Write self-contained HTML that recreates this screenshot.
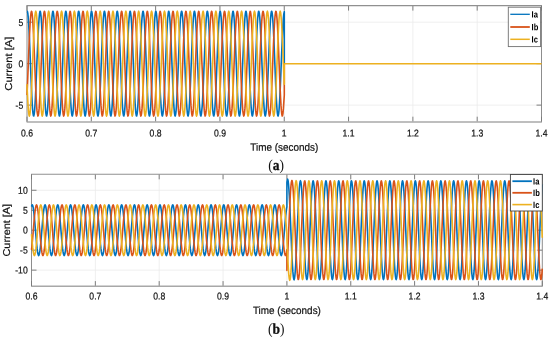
<!DOCTYPE html>
<html><head><meta charset="utf-8"><title>Current waveforms</title>
<style>html,body{margin:0;padding:0;background:#fff}svg{display:block}</style>
</head><body>
<svg width="550" height="339" viewBox="0 0 550 339">
<style>
.g{stroke:#ebebeb;stroke-width:0.8}
.t{stroke:#606060;stroke-width:0.8}
.bh{fill:none;stroke:#909090;stroke-width:1.1}
.bb{fill:none;stroke:#a8a8a8;stroke-width:1.45}
.bv{fill:none;stroke:#787878;stroke-width:0.85}
.lgb{fill:#fff;stroke-width:0.9}
text{font-family:"Liberation Sans",Arial,sans-serif;fill:#111}
.tk{font-size:9px;stroke:#111;stroke-width:0.2px}
.lb{font-size:10px;stroke:#111;stroke-width:0.2px}
.lg{font-size:8px;fill:#000;font-weight:bold}
.bd{font-weight:bold;stroke:#111;stroke-width:0.3px}
.cap{font-family:"Liberation Serif","Times New Roman",serif;font-size:15px;fill:#111}
</style>
<rect width="550" height="339" fill="#fff"/>
<line x1="91.31" y1="5.60" x2="91.31" y2="121.70" class="g"/>
<line x1="155.62" y1="5.60" x2="155.62" y2="121.70" class="g"/>
<line x1="219.94" y1="5.60" x2="219.94" y2="121.70" class="g"/>
<line x1="284.25" y1="5.60" x2="284.25" y2="121.70" class="g"/>
<line x1="348.56" y1="5.60" x2="348.56" y2="121.70" class="g"/>
<line x1="412.88" y1="5.60" x2="412.88" y2="121.70" class="g"/>
<line x1="477.19" y1="5.60" x2="477.19" y2="121.70" class="g"/>
<line x1="27.00" y1="22.19" x2="541.50" y2="22.19" class="g"/>
<line x1="27.00" y1="63.65" x2="541.50" y2="63.65" class="g"/>
<line x1="27.00" y1="105.11" x2="541.50" y2="105.11" class="g"/>
<line x1="27.00" y1="121.70" x2="27.00" y2="116.70" class="t"/>
<line x1="27.00" y1="5.60" x2="27.00" y2="10.60" class="t"/>
<line x1="91.31" y1="121.70" x2="91.31" y2="116.70" class="t"/>
<line x1="91.31" y1="5.60" x2="91.31" y2="10.60" class="t"/>
<line x1="155.62" y1="121.70" x2="155.62" y2="116.70" class="t"/>
<line x1="155.62" y1="5.60" x2="155.62" y2="10.60" class="t"/>
<line x1="219.94" y1="121.70" x2="219.94" y2="116.70" class="t"/>
<line x1="219.94" y1="5.60" x2="219.94" y2="10.60" class="t"/>
<line x1="284.25" y1="121.70" x2="284.25" y2="116.70" class="t"/>
<line x1="284.25" y1="5.60" x2="284.25" y2="10.60" class="t"/>
<line x1="348.56" y1="121.70" x2="348.56" y2="116.70" class="t"/>
<line x1="348.56" y1="5.60" x2="348.56" y2="10.60" class="t"/>
<line x1="412.88" y1="121.70" x2="412.88" y2="116.70" class="t"/>
<line x1="412.88" y1="5.60" x2="412.88" y2="10.60" class="t"/>
<line x1="477.19" y1="121.70" x2="477.19" y2="116.70" class="t"/>
<line x1="477.19" y1="5.60" x2="477.19" y2="10.60" class="t"/>
<line x1="541.50" y1="121.70" x2="541.50" y2="116.70" class="t"/>
<line x1="541.50" y1="5.60" x2="541.50" y2="10.60" class="t"/>
<line x1="27.00" y1="22.19" x2="32.00" y2="22.19" class="t"/>
<line x1="541.50" y1="22.19" x2="536.50" y2="22.19" class="t"/>
<line x1="27.00" y1="63.65" x2="32.00" y2="63.65" class="t"/>
<line x1="541.50" y1="63.65" x2="536.50" y2="63.65" class="t"/>
<line x1="27.00" y1="105.11" x2="32.00" y2="105.11" class="t"/>
<line x1="541.50" y1="105.11" x2="536.50" y2="105.11" class="t"/>
<path d="M26.60 5.60H541.90" class="bh"/>
<path d="M26.60 121.90H541.90" class="bb"/>
<path d="M27.00 5.60V121.70M541.50 5.60V121.70" class="bv"/>
<polyline points="27.0,9.07 27.4,8.88 27.8,10.24 28.2,13.08 28.6,17.29 29.0,22.73 29.4,29.17 29.8,36.38 30.2,44.07 30.6,51.94 31.0,59.70 31.4,67.05 31.8,73.71 32.2,79.41 32.6,83.94 33.0,87.13 33.4,88.85 33.8,89.04 34.2,87.69 34.6,84.85 35.0,80.63 35.4,75.19 35.8,68.75 36.2,61.55 36.6,53.86 37.0,45.98 37.5,38.22 37.9,30.87 38.3,24.22 38.7,18.51 39.1,13.98 39.5,10.79 39.9,9.07 40.3,8.88 40.7,10.24 41.1,13.08 41.5,17.29 41.9,22.73 42.3,29.17 42.7,36.38 43.1,44.07 43.5,51.94 43.9,59.70 44.3,67.05 44.7,73.71 45.1,79.41 45.5,83.94 45.9,87.13 46.3,88.85 46.7,89.04 47.1,87.69 47.5,84.85 47.9,80.63 48.3,75.19 48.7,68.75 49.1,61.55 49.5,53.86 49.9,45.98 50.3,38.22 50.7,30.87 51.1,24.22 51.5,18.51 51.9,13.98 52.3,10.79 52.7,9.07 53.1,8.88 53.5,10.24 53.9,13.08 54.3,17.29 54.7,22.73 55.1,29.17 55.5,36.38 55.9,44.07 56.3,51.94 56.7,59.70 57.1,67.05 57.5,73.71 58.0,79.41 58.4,83.94 58.8,87.13 59.2,88.85 59.6,89.04 60.0,87.69 60.4,84.85 60.8,80.63 61.2,75.19 61.6,68.75 62.0,61.55 62.4,53.86 62.8,45.98 63.2,38.22 63.6,30.87 64.0,24.22 64.4,18.51 64.8,13.98 65.2,10.79 65.6,9.07 66.0,8.88 66.4,10.24 66.8,13.08 67.2,17.29 67.6,22.73 68.0,29.17 68.4,36.38 68.8,44.07 69.2,51.94 69.6,59.70 70.0,67.05 70.4,73.71 70.8,79.41 71.2,83.94 71.6,87.13 72.0,88.85 72.4,89.04 72.8,87.69 73.2,84.85 73.6,80.63 74.0,75.19 74.4,68.75 74.8,61.55 75.2,53.86 75.6,45.98 76.0,38.22 76.4,30.87 76.8,24.22 77.2,18.51 77.6,13.98 78.0,10.79 78.4,9.07 78.9,8.88 79.3,10.24 79.7,13.08 80.1,17.29 80.5,22.73 80.9,29.17 81.3,36.38 81.7,44.07 82.1,51.94 82.5,59.70 82.9,67.05 83.3,73.71 83.7,79.41 84.1,83.94 84.5,87.13 84.9,88.85 85.3,89.04 85.7,87.69 86.1,84.85 86.5,80.63 86.9,75.19 87.3,68.75 87.7,61.55 88.1,53.86 88.5,45.98 88.9,38.22 89.3,30.87 89.7,24.22 90.1,18.51 90.5,13.98 90.9,10.79 91.3,9.07 91.7,8.88 92.1,10.24 92.5,13.08 92.9,17.29 93.3,22.73 93.7,29.17 94.1,36.38 94.5,44.07 94.9,51.94 95.3,59.70 95.7,67.05 96.1,73.71 96.5,79.41 96.9,83.94 97.3,87.13 97.7,88.85 98.1,89.04 98.5,87.69 98.9,84.85 99.4,80.63 99.8,75.19 100.2,68.75 100.6,61.55 101.0,53.86 101.4,45.98 101.8,38.22 102.2,30.87 102.6,24.22 103.0,18.51 103.4,13.98 103.8,10.79 104.2,9.07 104.6,8.88 105.0,10.24 105.4,13.08 105.8,17.29 106.2,22.73 106.6,29.17 107.0,36.38 107.4,44.07 107.8,51.94 108.2,59.70 108.6,67.05 109.0,73.71 109.4,79.41 109.8,83.94 110.2,87.13 110.6,88.85 111.0,89.04 111.4,87.69 111.8,84.85 112.2,80.63 112.6,75.19 113.0,68.75 113.4,61.55 113.8,53.86 114.2,45.98 114.6,38.22 115.0,30.87 115.4,24.22 115.8,18.51 116.2,13.98 116.6,10.79 117.0,9.07 117.4,8.88 117.8,10.24 118.2,13.08 118.6,17.29 119.0,22.73 119.4,29.17 119.9,36.38 120.3,44.07 120.7,51.94 121.1,59.70 121.5,67.05 121.9,73.71 122.3,79.41 122.7,83.94 123.1,87.13 123.5,88.85 123.9,89.04 124.3,87.69 124.7,84.85 125.1,80.63 125.5,75.19 125.9,68.75 126.3,61.55 126.7,53.86 127.1,45.98 127.5,38.22 127.9,30.87 128.3,24.22 128.7,18.51 129.1,13.98 129.5,10.79 129.9,9.07 130.3,8.88 130.7,10.24 131.1,13.08 131.5,17.29 131.9,22.73 132.3,29.17 132.7,36.38 133.1,44.07 133.5,51.94 133.9,59.70 134.3,67.05 134.7,73.71 135.1,79.41 135.5,83.94 135.9,87.13 136.3,88.85 136.7,89.04 137.1,87.69 137.5,84.85 137.9,80.63 138.3,75.19 138.7,68.75 139.1,61.55 139.5,53.86 139.9,45.98 140.4,38.22 140.8,30.87 141.2,24.22 141.6,18.51 142.0,13.98 142.4,10.79 142.8,9.07 143.2,8.88 143.6,10.24 144.0,13.08 144.4,17.29 144.8,22.73 145.2,29.17 145.6,36.38 146.0,44.07 146.4,51.94 146.8,59.70 147.2,67.05 147.6,73.71 148.0,79.41 148.4,83.94 148.8,87.13 149.2,88.85 149.6,89.04 150.0,87.69 150.4,84.85 150.8,80.63 151.2,75.19 151.6,68.75 152.0,61.55 152.4,53.86 152.8,45.98 153.2,38.22 153.6,30.87 154.0,24.22 154.4,18.51 154.8,13.98 155.2,10.79 155.6,9.07 156.0,8.88 156.4,10.24 156.8,13.08 157.2,17.29 157.6,22.73 158.0,29.17 158.4,36.38 158.8,44.07 159.2,51.94 159.6,59.70 160.0,67.05 160.4,73.71 160.9,79.41 161.3,83.94 161.7,87.13 162.1,88.85 162.5,89.04 162.9,87.69 163.3,84.85 163.7,80.63 164.1,75.19 164.5,68.75 164.9,61.55 165.3,53.86 165.7,45.98 166.1,38.22 166.5,30.87 166.9,24.22 167.3,18.51 167.7,13.98 168.1,10.79 168.5,9.07 168.9,8.88 169.3,10.24 169.7,13.08 170.1,17.29 170.5,22.73 170.9,29.17 171.3,36.38 171.7,44.07 172.1,51.94 172.5,59.70 172.9,67.05 173.3,73.71 173.7,79.41 174.1,83.94 174.5,87.13 174.9,88.85 175.3,89.04 175.7,87.69 176.1,84.85 176.5,80.63 176.9,75.19 177.3,68.75 177.7,61.55 178.1,53.86 178.5,45.98 178.9,38.22 179.3,30.87 179.7,24.22 180.1,18.51 180.5,13.98 180.9,10.79 181.4,9.07 181.8,8.88 182.2,10.24 182.6,13.08 183.0,17.29 183.4,22.73 183.8,29.17 184.2,36.38 184.6,44.07 185.0,51.94 185.4,59.70 185.8,67.05 186.2,73.71 186.6,79.41 187.0,83.94 187.4,87.13 187.8,88.85 188.2,89.04 188.6,87.69 189.0,84.85 189.4,80.63 189.8,75.19 190.2,68.75 190.6,61.55 191.0,53.86 191.4,45.98 191.8,38.22 192.2,30.87 192.6,24.22 193.0,18.51 193.4,13.98 193.8,10.79 194.2,9.07 194.6,8.88 195.0,10.24 195.4,13.08 195.8,17.29 196.2,22.73 196.6,29.17 197.0,36.38 197.4,44.07 197.8,51.94 198.2,59.70 198.6,67.05 199.0,73.71 199.4,79.41 199.8,83.94 200.2,87.13 200.6,88.85 201.0,89.04 201.4,87.69 201.8,84.85 202.3,80.63 202.7,75.19 203.1,68.75 203.5,61.55 203.9,53.86 204.3,45.98 204.7,38.22 205.1,30.87 205.5,24.22 205.9,18.51 206.3,13.98 206.7,10.79 207.1,9.07 207.5,8.88 207.9,10.24 208.3,13.08 208.7,17.29 209.1,22.73 209.5,29.17 209.9,36.38 210.3,44.07 210.7,51.94 211.1,59.70 211.5,67.05 211.9,73.71 212.3,79.41 212.7,83.94 213.1,87.13 213.5,88.85 213.9,89.04 214.3,87.69 214.7,84.85 215.1,80.63 215.5,75.19 215.9,68.75 216.3,61.55 216.7,53.86 217.1,45.98 217.5,38.22 217.9,30.87 218.3,24.22 218.7,18.51 219.1,13.98 219.5,10.79 219.9,9.07 220.3,8.88 220.7,10.24 221.1,13.08 221.5,17.29 221.9,22.73 222.3,29.17 222.8,36.38 223.2,44.07 223.6,51.94 224.0,59.70 224.4,67.05 224.8,73.71 225.2,79.41 225.6,83.94 226.0,87.13 226.4,88.85 226.8,89.04 227.2,87.69 227.6,84.85 228.0,80.63 228.4,75.19 228.8,68.75 229.2,61.55 229.6,53.86 230.0,45.98 230.4,38.22 230.8,30.87 231.2,24.22 231.6,18.51 232.0,13.98 232.4,10.79 232.8,9.07 233.2,8.88 233.6,10.24 234.0,13.08 234.4,17.29 234.8,22.73 235.2,29.17 235.6,36.38 236.0,44.07 236.4,51.94 236.8,59.70 237.2,67.05 237.6,73.71 238.0,79.41 238.4,83.94 238.8,87.13 239.2,88.85 239.6,89.04 240.0,87.69 240.4,84.85 240.8,80.63 241.2,75.19 241.6,68.75 242.0,61.55 242.4,53.86 242.8,45.98 243.3,38.22 243.7,30.87 244.1,24.22 244.5,18.51 244.9,13.98 245.3,10.79 245.7,9.07 246.1,8.88 246.5,10.24 246.9,13.08 247.3,17.29 247.7,22.73 248.1,29.17 248.5,36.38 248.9,44.07 249.3,51.94 249.7,59.70 250.1,67.05 250.5,73.71 250.9,79.41 251.3,83.94 251.7,87.13 252.1,88.85 252.5,89.04 252.9,87.69 253.3,84.85 253.7,80.63 254.1,75.19 254.5,68.75 254.9,61.55 255.3,53.86 255.7,45.98 256.1,38.22 256.5,30.87 256.9,24.22 257.3,18.51 257.7,13.98 258.1,10.79 258.5,9.07 258.9,8.88 259.3,10.24 259.7,13.08 260.1,17.29 260.5,22.73 260.9,29.17 261.3,36.38 261.7,44.07 262.1,51.94 262.5,59.70 262.9,67.05 263.3,73.71 263.8,79.41 264.2,83.94 264.6,87.13 265.0,88.85 265.4,89.04 265.8,87.69 266.2,84.85 266.6,80.63 267.0,75.19 267.4,68.75 267.8,61.55 268.2,53.86 268.6,45.98 269.0,38.22 269.4,30.87 269.8,24.22 270.2,18.51 270.6,13.98 271.0,10.79 271.4,9.07 271.8,8.88 272.2,10.24 272.6,13.08 273.0,17.29 273.4,22.73 273.8,29.17 274.2,36.38 274.6,44.07 275.0,51.94 275.4,59.70 275.8,67.05 276.2,73.71 276.6,79.41 277.0,83.94 277.4,87.13 277.8,88.85 278.2,89.04 278.6,87.69 279.0,84.85 279.4,80.63 279.8,75.19 280.2,68.75 280.6,61.55 281.0,53.86 281.4,45.98 281.8,38.22 282.2,30.87 282.6,24.22 283.0,18.51 283.4,13.98 283.8,10.79 284.3,9.07 284.3,48.96" fill="none" stroke="#0072BD" stroke-width="1.6" stroke-linejoin="round" transform="scale(1,1.3)"/>
<polyline points="27.0,73.15 27.4,66.42 27.8,59.02 28.2,51.24 28.6,43.37 29.0,35.71 29.4,28.56 29.8,22.20 30.2,16.86 30.6,12.76 31.0,10.05 31.4,8.84 31.8,9.16 32.2,11.02 32.6,14.34 33.0,18.98 33.4,24.78 33.8,31.50 34.2,38.90 34.6,46.69 35.0,54.56 35.4,62.21 35.8,69.36 36.2,75.72 36.6,81.06 37.0,85.16 37.5,87.87 37.9,89.09 38.3,88.76 38.7,86.90 39.1,83.59 39.5,78.94 39.9,73.15 40.3,66.42 40.7,59.02 41.1,51.24 41.5,43.37 41.9,35.71 42.3,28.56 42.7,22.20 43.1,16.86 43.5,12.76 43.9,10.05 44.3,8.84 44.7,9.16 45.1,11.02 45.5,14.34 45.9,18.98 46.3,24.78 46.7,31.50 47.1,38.90 47.5,46.69 47.9,54.56 48.3,62.21 48.7,69.36 49.1,75.72 49.5,81.06 49.9,85.16 50.3,87.87 50.7,89.09 51.1,88.76 51.5,86.90 51.9,83.59 52.3,78.94 52.7,73.15 53.1,66.42 53.5,59.02 53.9,51.24 54.3,43.37 54.7,35.71 55.1,28.56 55.5,22.20 55.9,16.86 56.3,12.76 56.7,10.05 57.1,8.84 57.5,9.16 58.0,11.02 58.4,14.34 58.8,18.98 59.2,24.78 59.6,31.50 60.0,38.90 60.4,46.69 60.8,54.56 61.2,62.21 61.6,69.36 62.0,75.72 62.4,81.06 62.8,85.16 63.2,87.87 63.6,89.09 64.0,88.76 64.4,86.90 64.8,83.59 65.2,78.94 65.6,73.15 66.0,66.42 66.4,59.02 66.8,51.24 67.2,43.37 67.6,35.71 68.0,28.56 68.4,22.20 68.8,16.86 69.2,12.76 69.6,10.05 70.0,8.84 70.4,9.16 70.8,11.02 71.2,14.34 71.6,18.98 72.0,24.78 72.4,31.50 72.8,38.90 73.2,46.69 73.6,54.56 74.0,62.21 74.4,69.36 74.8,75.72 75.2,81.06 75.6,85.16 76.0,87.87 76.4,89.09 76.8,88.76 77.2,86.90 77.6,83.59 78.0,78.94 78.4,73.15 78.9,66.42 79.3,59.02 79.7,51.24 80.1,43.37 80.5,35.71 80.9,28.56 81.3,22.20 81.7,16.86 82.1,12.76 82.5,10.05 82.9,8.84 83.3,9.16 83.7,11.02 84.1,14.34 84.5,18.98 84.9,24.78 85.3,31.50 85.7,38.90 86.1,46.69 86.5,54.56 86.9,62.21 87.3,69.36 87.7,75.72 88.1,81.06 88.5,85.16 88.9,87.87 89.3,89.09 89.7,88.76 90.1,86.90 90.5,83.59 90.9,78.94 91.3,73.15 91.7,66.42 92.1,59.02 92.5,51.24 92.9,43.37 93.3,35.71 93.7,28.56 94.1,22.20 94.5,16.86 94.9,12.76 95.3,10.05 95.7,8.84 96.1,9.16 96.5,11.02 96.9,14.34 97.3,18.98 97.7,24.78 98.1,31.50 98.5,38.90 98.9,46.69 99.4,54.56 99.8,62.21 100.2,69.36 100.6,75.72 101.0,81.06 101.4,85.16 101.8,87.87 102.2,89.09 102.6,88.76 103.0,86.90 103.4,83.59 103.8,78.94 104.2,73.15 104.6,66.42 105.0,59.02 105.4,51.24 105.8,43.37 106.2,35.71 106.6,28.56 107.0,22.20 107.4,16.86 107.8,12.76 108.2,10.05 108.6,8.84 109.0,9.16 109.4,11.02 109.8,14.34 110.2,18.98 110.6,24.78 111.0,31.50 111.4,38.90 111.8,46.69 112.2,54.56 112.6,62.21 113.0,69.36 113.4,75.72 113.8,81.06 114.2,85.16 114.6,87.87 115.0,89.09 115.4,88.76 115.8,86.90 116.2,83.59 116.6,78.94 117.0,73.15 117.4,66.42 117.8,59.02 118.2,51.24 118.6,43.37 119.0,35.71 119.4,28.56 119.9,22.20 120.3,16.86 120.7,12.76 121.1,10.05 121.5,8.84 121.9,9.16 122.3,11.02 122.7,14.34 123.1,18.98 123.5,24.78 123.9,31.50 124.3,38.90 124.7,46.69 125.1,54.56 125.5,62.21 125.9,69.36 126.3,75.72 126.7,81.06 127.1,85.16 127.5,87.87 127.9,89.09 128.3,88.76 128.7,86.90 129.1,83.59 129.5,78.94 129.9,73.15 130.3,66.42 130.7,59.02 131.1,51.24 131.5,43.37 131.9,35.71 132.3,28.56 132.7,22.20 133.1,16.86 133.5,12.76 133.9,10.05 134.3,8.84 134.7,9.16 135.1,11.02 135.5,14.34 135.9,18.98 136.3,24.78 136.7,31.50 137.1,38.90 137.5,46.69 137.9,54.56 138.3,62.21 138.7,69.36 139.1,75.72 139.5,81.06 139.9,85.16 140.4,87.87 140.8,89.09 141.2,88.76 141.6,86.90 142.0,83.59 142.4,78.94 142.8,73.15 143.2,66.42 143.6,59.02 144.0,51.24 144.4,43.37 144.8,35.71 145.2,28.56 145.6,22.20 146.0,16.86 146.4,12.76 146.8,10.05 147.2,8.84 147.6,9.16 148.0,11.02 148.4,14.34 148.8,18.98 149.2,24.78 149.6,31.50 150.0,38.90 150.4,46.69 150.8,54.56 151.2,62.21 151.6,69.36 152.0,75.72 152.4,81.06 152.8,85.16 153.2,87.87 153.6,89.09 154.0,88.76 154.4,86.90 154.8,83.59 155.2,78.94 155.6,73.15 156.0,66.42 156.4,59.02 156.8,51.24 157.2,43.37 157.6,35.71 158.0,28.56 158.4,22.20 158.8,16.86 159.2,12.76 159.6,10.05 160.0,8.84 160.4,9.16 160.9,11.02 161.3,14.34 161.7,18.98 162.1,24.78 162.5,31.50 162.9,38.90 163.3,46.69 163.7,54.56 164.1,62.21 164.5,69.36 164.9,75.72 165.3,81.06 165.7,85.16 166.1,87.87 166.5,89.09 166.9,88.76 167.3,86.90 167.7,83.59 168.1,78.94 168.5,73.15 168.9,66.42 169.3,59.02 169.7,51.24 170.1,43.37 170.5,35.71 170.9,28.56 171.3,22.20 171.7,16.86 172.1,12.76 172.5,10.05 172.9,8.84 173.3,9.16 173.7,11.02 174.1,14.34 174.5,18.98 174.9,24.78 175.3,31.50 175.7,38.90 176.1,46.69 176.5,54.56 176.9,62.21 177.3,69.36 177.7,75.72 178.1,81.06 178.5,85.16 178.9,87.87 179.3,89.09 179.7,88.76 180.1,86.90 180.5,83.59 180.9,78.94 181.4,73.15 181.8,66.42 182.2,59.02 182.6,51.24 183.0,43.37 183.4,35.71 183.8,28.56 184.2,22.20 184.6,16.86 185.0,12.76 185.4,10.05 185.8,8.84 186.2,9.16 186.6,11.02 187.0,14.34 187.4,18.98 187.8,24.78 188.2,31.50 188.6,38.90 189.0,46.69 189.4,54.56 189.8,62.21 190.2,69.36 190.6,75.72 191.0,81.06 191.4,85.16 191.8,87.87 192.2,89.09 192.6,88.76 193.0,86.90 193.4,83.59 193.8,78.94 194.2,73.15 194.6,66.42 195.0,59.02 195.4,51.24 195.8,43.37 196.2,35.71 196.6,28.56 197.0,22.20 197.4,16.86 197.8,12.76 198.2,10.05 198.6,8.84 199.0,9.16 199.4,11.02 199.8,14.34 200.2,18.98 200.6,24.78 201.0,31.50 201.4,38.90 201.8,46.69 202.3,54.56 202.7,62.21 203.1,69.36 203.5,75.72 203.9,81.06 204.3,85.16 204.7,87.87 205.1,89.09 205.5,88.76 205.9,86.90 206.3,83.59 206.7,78.94 207.1,73.15 207.5,66.42 207.9,59.02 208.3,51.24 208.7,43.37 209.1,35.71 209.5,28.56 209.9,22.20 210.3,16.86 210.7,12.76 211.1,10.05 211.5,8.84 211.9,9.16 212.3,11.02 212.7,14.34 213.1,18.98 213.5,24.78 213.9,31.50 214.3,38.90 214.7,46.69 215.1,54.56 215.5,62.21 215.9,69.36 216.3,75.72 216.7,81.06 217.1,85.16 217.5,87.87 217.9,89.09 218.3,88.76 218.7,86.90 219.1,83.59 219.5,78.94 219.9,73.15 220.3,66.42 220.7,59.02 221.1,51.24 221.5,43.37 221.9,35.71 222.3,28.56 222.8,22.20 223.2,16.86 223.6,12.76 224.0,10.05 224.4,8.84 224.8,9.16 225.2,11.02 225.6,14.34 226.0,18.98 226.4,24.78 226.8,31.50 227.2,38.90 227.6,46.69 228.0,54.56 228.4,62.21 228.8,69.36 229.2,75.72 229.6,81.06 230.0,85.16 230.4,87.87 230.8,89.09 231.2,88.76 231.6,86.90 232.0,83.59 232.4,78.94 232.8,73.15 233.2,66.42 233.6,59.02 234.0,51.24 234.4,43.37 234.8,35.71 235.2,28.56 235.6,22.20 236.0,16.86 236.4,12.76 236.8,10.05 237.2,8.84 237.6,9.16 238.0,11.02 238.4,14.34 238.8,18.98 239.2,24.78 239.6,31.50 240.0,38.90 240.4,46.69 240.8,54.56 241.2,62.21 241.6,69.36 242.0,75.72 242.4,81.06 242.8,85.16 243.3,87.87 243.7,89.09 244.1,88.76 244.5,86.90 244.9,83.59 245.3,78.94 245.7,73.15 246.1,66.42 246.5,59.02 246.9,51.24 247.3,43.37 247.7,35.71 248.1,28.56 248.5,22.20 248.9,16.86 249.3,12.76 249.7,10.05 250.1,8.84 250.5,9.16 250.9,11.02 251.3,14.34 251.7,18.98 252.1,24.78 252.5,31.50 252.9,38.90 253.3,46.69 253.7,54.56 254.1,62.21 254.5,69.36 254.9,75.72 255.3,81.06 255.7,85.16 256.1,87.87 256.5,89.09 256.9,88.76 257.3,86.90 257.7,83.59 258.1,78.94 258.5,73.15 258.9,66.42 259.3,59.02 259.7,51.24 260.1,43.37 260.5,35.71 260.9,28.56 261.3,22.20 261.7,16.86 262.1,12.76 262.5,10.05 262.9,8.84 263.3,9.16 263.8,11.02 264.2,14.34 264.6,18.98 265.0,24.78 265.4,31.50 265.8,38.90 266.2,46.69 266.6,54.56 267.0,62.21 267.4,69.36 267.8,75.72 268.2,81.06 268.6,85.16 269.0,87.87 269.4,89.09 269.8,88.76 270.2,86.90 270.6,83.59 271.0,78.94 271.4,73.15 271.8,66.42 272.2,59.02 272.6,51.24 273.0,43.37 273.4,35.71 273.8,28.56 274.2,22.20 274.6,16.86 275.0,12.76 275.4,10.05 275.8,8.84 276.2,9.16 276.6,11.02 277.0,14.34 277.4,18.98 277.8,24.78 278.2,31.50 278.6,38.90 279.0,46.69 279.4,54.56 279.8,62.21 280.2,69.36 280.6,75.72 281.0,81.06 281.4,85.16 281.8,87.87 282.2,89.09 282.6,88.76 283.0,86.90 283.4,83.59 283.8,78.94 284.3,73.15 284.3,48.96" fill="none" stroke="#D95319" stroke-width="1.6" stroke-linejoin="round" transform="scale(1,1.3)"/>
<line x1="284.25" y1="63.75" x2="541.50" y2="63.75" stroke="#EDB120" stroke-width="1.5"/>
<polyline points="27.0,64.67 27.4,71.58 27.8,77.63 28.2,82.57 28.6,86.22 29.0,88.45 29.4,89.15 29.8,88.31 30.2,85.95 30.6,82.18 31.0,77.13 31.4,70.99 31.8,64.01 32.2,56.46 32.6,48.61 33.0,40.78 33.4,33.26 33.8,26.34 34.2,20.30 34.6,15.35 35.0,11.70 35.4,9.48 35.8,8.77 36.2,9.62 36.6,11.97 37.0,15.74 37.5,20.79 37.9,26.93 38.3,33.91 38.7,41.47 39.1,49.31 39.5,57.15 39.9,64.67 40.3,71.58 40.7,77.63 41.1,82.57 41.5,86.22 41.9,88.45 42.3,89.15 42.7,88.31 43.1,85.95 43.5,82.18 43.9,77.13 44.3,70.99 44.7,64.01 45.1,56.46 45.5,48.61 45.9,40.78 46.3,33.26 46.7,26.34 47.1,20.30 47.5,15.35 47.9,11.70 48.3,9.48 48.7,8.77 49.1,9.62 49.5,11.97 49.9,15.74 50.3,20.79 50.7,26.93 51.1,33.91 51.5,41.47 51.9,49.31 52.3,57.15 52.7,64.67 53.1,71.58 53.5,77.63 53.9,82.57 54.3,86.22 54.7,88.45 55.1,89.15 55.5,88.31 55.9,85.95 56.3,82.18 56.7,77.13 57.1,70.99 57.5,64.01 58.0,56.46 58.4,48.61 58.8,40.78 59.2,33.26 59.6,26.34 60.0,20.30 60.4,15.35 60.8,11.70 61.2,9.48 61.6,8.77 62.0,9.62 62.4,11.97 62.8,15.74 63.2,20.79 63.6,26.93 64.0,33.91 64.4,41.47 64.8,49.31 65.2,57.15 65.6,64.67 66.0,71.58 66.4,77.63 66.8,82.57 67.2,86.22 67.6,88.45 68.0,89.15 68.4,88.31 68.8,85.95 69.2,82.18 69.6,77.13 70.0,70.99 70.4,64.01 70.8,56.46 71.2,48.61 71.6,40.78 72.0,33.26 72.4,26.34 72.8,20.30 73.2,15.35 73.6,11.70 74.0,9.48 74.4,8.77 74.8,9.62 75.2,11.97 75.6,15.74 76.0,20.79 76.4,26.93 76.8,33.91 77.2,41.47 77.6,49.31 78.0,57.15 78.4,64.67 78.9,71.58 79.3,77.63 79.7,82.57 80.1,86.22 80.5,88.45 80.9,89.15 81.3,88.31 81.7,85.95 82.1,82.18 82.5,77.13 82.9,70.99 83.3,64.01 83.7,56.46 84.1,48.61 84.5,40.78 84.9,33.26 85.3,26.34 85.7,20.30 86.1,15.35 86.5,11.70 86.9,9.48 87.3,8.77 87.7,9.62 88.1,11.97 88.5,15.74 88.9,20.79 89.3,26.93 89.7,33.91 90.1,41.47 90.5,49.31 90.9,57.15 91.3,64.67 91.7,71.58 92.1,77.63 92.5,82.57 92.9,86.22 93.3,88.45 93.7,89.15 94.1,88.31 94.5,85.95 94.9,82.18 95.3,77.13 95.7,70.99 96.1,64.01 96.5,56.46 96.9,48.61 97.3,40.78 97.7,33.26 98.1,26.34 98.5,20.30 98.9,15.35 99.4,11.70 99.8,9.48 100.2,8.77 100.6,9.62 101.0,11.97 101.4,15.74 101.8,20.79 102.2,26.93 102.6,33.91 103.0,41.47 103.4,49.31 103.8,57.15 104.2,64.67 104.6,71.58 105.0,77.63 105.4,82.57 105.8,86.22 106.2,88.45 106.6,89.15 107.0,88.31 107.4,85.95 107.8,82.18 108.2,77.13 108.6,70.99 109.0,64.01 109.4,56.46 109.8,48.61 110.2,40.78 110.6,33.26 111.0,26.34 111.4,20.30 111.8,15.35 112.2,11.70 112.6,9.48 113.0,8.77 113.4,9.62 113.8,11.97 114.2,15.74 114.6,20.79 115.0,26.93 115.4,33.91 115.8,41.47 116.2,49.31 116.6,57.15 117.0,64.67 117.4,71.58 117.8,77.63 118.2,82.57 118.6,86.22 119.0,88.45 119.4,89.15 119.9,88.31 120.3,85.95 120.7,82.18 121.1,77.13 121.5,70.99 121.9,64.01 122.3,56.46 122.7,48.61 123.1,40.78 123.5,33.26 123.9,26.34 124.3,20.30 124.7,15.35 125.1,11.70 125.5,9.48 125.9,8.77 126.3,9.62 126.7,11.97 127.1,15.74 127.5,20.79 127.9,26.93 128.3,33.91 128.7,41.47 129.1,49.31 129.5,57.15 129.9,64.67 130.3,71.58 130.7,77.63 131.1,82.57 131.5,86.22 131.9,88.45 132.3,89.15 132.7,88.31 133.1,85.95 133.5,82.18 133.9,77.13 134.3,70.99 134.7,64.01 135.1,56.46 135.5,48.61 135.9,40.78 136.3,33.26 136.7,26.34 137.1,20.30 137.5,15.35 137.9,11.70 138.3,9.48 138.7,8.77 139.1,9.62 139.5,11.97 139.9,15.74 140.4,20.79 140.8,26.93 141.2,33.91 141.6,41.47 142.0,49.31 142.4,57.15 142.8,64.67 143.2,71.58 143.6,77.63 144.0,82.57 144.4,86.22 144.8,88.45 145.2,89.15 145.6,88.31 146.0,85.95 146.4,82.18 146.8,77.13 147.2,70.99 147.6,64.01 148.0,56.46 148.4,48.61 148.8,40.78 149.2,33.26 149.6,26.34 150.0,20.30 150.4,15.35 150.8,11.70 151.2,9.48 151.6,8.77 152.0,9.62 152.4,11.97 152.8,15.74 153.2,20.79 153.6,26.93 154.0,33.91 154.4,41.47 154.8,49.31 155.2,57.15 155.6,64.67 156.0,71.58 156.4,77.63 156.8,82.57 157.2,86.22 157.6,88.45 158.0,89.15 158.4,88.31 158.8,85.95 159.2,82.18 159.6,77.13 160.0,70.99 160.4,64.01 160.9,56.46 161.3,48.61 161.7,40.78 162.1,33.26 162.5,26.34 162.9,20.30 163.3,15.35 163.7,11.70 164.1,9.48 164.5,8.77 164.9,9.62 165.3,11.97 165.7,15.74 166.1,20.79 166.5,26.93 166.9,33.91 167.3,41.47 167.7,49.31 168.1,57.15 168.5,64.67 168.9,71.58 169.3,77.63 169.7,82.57 170.1,86.22 170.5,88.45 170.9,89.15 171.3,88.31 171.7,85.95 172.1,82.18 172.5,77.13 172.9,70.99 173.3,64.01 173.7,56.46 174.1,48.61 174.5,40.78 174.9,33.26 175.3,26.34 175.7,20.30 176.1,15.35 176.5,11.70 176.9,9.48 177.3,8.77 177.7,9.62 178.1,11.97 178.5,15.74 178.9,20.79 179.3,26.93 179.7,33.91 180.1,41.47 180.5,49.31 180.9,57.15 181.4,64.67 181.8,71.58 182.2,77.63 182.6,82.57 183.0,86.22 183.4,88.45 183.8,89.15 184.2,88.31 184.6,85.95 185.0,82.18 185.4,77.13 185.8,70.99 186.2,64.01 186.6,56.46 187.0,48.61 187.4,40.78 187.8,33.26 188.2,26.34 188.6,20.30 189.0,15.35 189.4,11.70 189.8,9.48 190.2,8.77 190.6,9.62 191.0,11.97 191.4,15.74 191.8,20.79 192.2,26.93 192.6,33.91 193.0,41.47 193.4,49.31 193.8,57.15 194.2,64.67 194.6,71.58 195.0,77.63 195.4,82.57 195.8,86.22 196.2,88.45 196.6,89.15 197.0,88.31 197.4,85.95 197.8,82.18 198.2,77.13 198.6,70.99 199.0,64.01 199.4,56.46 199.8,48.61 200.2,40.78 200.6,33.26 201.0,26.34 201.4,20.30 201.8,15.35 202.3,11.70 202.7,9.48 203.1,8.77 203.5,9.62 203.9,11.97 204.3,15.74 204.7,20.79 205.1,26.93 205.5,33.91 205.9,41.47 206.3,49.31 206.7,57.15 207.1,64.67 207.5,71.58 207.9,77.63 208.3,82.57 208.7,86.22 209.1,88.45 209.5,89.15 209.9,88.31 210.3,85.95 210.7,82.18 211.1,77.13 211.5,70.99 211.9,64.01 212.3,56.46 212.7,48.61 213.1,40.78 213.5,33.26 213.9,26.34 214.3,20.30 214.7,15.35 215.1,11.70 215.5,9.48 215.9,8.77 216.3,9.62 216.7,11.97 217.1,15.74 217.5,20.79 217.9,26.93 218.3,33.91 218.7,41.47 219.1,49.31 219.5,57.15 219.9,64.67 220.3,71.58 220.7,77.63 221.1,82.57 221.5,86.22 221.9,88.45 222.3,89.15 222.8,88.31 223.2,85.95 223.6,82.18 224.0,77.13 224.4,70.99 224.8,64.01 225.2,56.46 225.6,48.61 226.0,40.78 226.4,33.26 226.8,26.34 227.2,20.30 227.6,15.35 228.0,11.70 228.4,9.48 228.8,8.77 229.2,9.62 229.6,11.97 230.0,15.74 230.4,20.79 230.8,26.93 231.2,33.91 231.6,41.47 232.0,49.31 232.4,57.15 232.8,64.67 233.2,71.58 233.6,77.63 234.0,82.57 234.4,86.22 234.8,88.45 235.2,89.15 235.6,88.31 236.0,85.95 236.4,82.18 236.8,77.13 237.2,70.99 237.6,64.01 238.0,56.46 238.4,48.61 238.8,40.78 239.2,33.26 239.6,26.34 240.0,20.30 240.4,15.35 240.8,11.70 241.2,9.48 241.6,8.77 242.0,9.62 242.4,11.97 242.8,15.74 243.3,20.79 243.7,26.93 244.1,33.91 244.5,41.47 244.9,49.31 245.3,57.15 245.7,64.67 246.1,71.58 246.5,77.63 246.9,82.57 247.3,86.22 247.7,88.45 248.1,89.15 248.5,88.31 248.9,85.95 249.3,82.18 249.7,77.13 250.1,70.99 250.5,64.01 250.9,56.46 251.3,48.61 251.7,40.78 252.1,33.26 252.5,26.34 252.9,20.30 253.3,15.35 253.7,11.70 254.1,9.48 254.5,8.77 254.9,9.62 255.3,11.97 255.7,15.74 256.1,20.79 256.5,26.93 256.9,33.91 257.3,41.47 257.7,49.31 258.1,57.15 258.5,64.67 258.9,71.58 259.3,77.63 259.7,82.57 260.1,86.22 260.5,88.45 260.9,89.15 261.3,88.31 261.7,85.95 262.1,82.18 262.5,77.13 262.9,70.99 263.3,64.01 263.8,56.46 264.2,48.61 264.6,40.78 265.0,33.26 265.4,26.34 265.8,20.30 266.2,15.35 266.6,11.70 267.0,9.48 267.4,8.77 267.8,9.62 268.2,11.97 268.6,15.74 269.0,20.79 269.4,26.93 269.8,33.91 270.2,41.47 270.6,49.31 271.0,57.15 271.4,64.67 271.8,71.58 272.2,77.63 272.6,82.57 273.0,86.22 273.4,88.45 273.8,89.15 274.2,88.31 274.6,85.95 275.0,82.18 275.4,77.13 275.8,70.99 276.2,64.01 276.6,56.46 277.0,48.61 277.4,40.78 277.8,33.26 278.2,26.34 278.6,20.30 279.0,15.35 279.4,11.70 279.8,9.48 280.2,8.77 280.6,9.62 281.0,11.97 281.4,15.74 281.8,20.79 282.2,26.93 282.6,33.91 283.0,41.47 283.4,49.31 283.8,57.15 284.3,64.67 284.3,48.96" fill="none" stroke="#EDB120" stroke-width="1.6" stroke-linejoin="round" transform="scale(1,1.3)"/>
<text transform="matrix(0.960,0.002,0,1.100,27.00,136.60)" class="tk" text-anchor="middle">0.6</text>
<text transform="matrix(0.960,0.002,0,1.100,91.31,136.60)" class="tk" text-anchor="middle">0.7</text>
<text transform="matrix(0.960,0.002,0,1.100,155.62,136.60)" class="tk" text-anchor="middle">0.8</text>
<text transform="matrix(0.960,0.002,0,1.100,219.94,136.60)" class="tk" text-anchor="middle">0.9</text>
<text transform="matrix(0.960,0.002,0,1.100,284.25,136.60)" class="tk" text-anchor="middle">1</text>
<text transform="matrix(0.960,0.002,0,1.100,348.56,136.60)" class="tk" text-anchor="middle">1.1</text>
<text transform="matrix(0.960,0.002,0,1.100,412.88,136.60)" class="tk" text-anchor="middle">1.2</text>
<text transform="matrix(0.960,0.002,0,1.100,477.19,136.60)" class="tk" text-anchor="middle">1.3</text>
<text transform="matrix(0.960,0.002,0,1.100,541.50,136.60)" class="tk" text-anchor="middle">1.4</text>
<text transform="matrix(0.960,0.002,0,1.100,23.20,25.89)" class="tk" text-anchor="end">5</text>
<text transform="matrix(0.960,0.002,0,1.100,23.20,67.35)" class="tk" text-anchor="end">0</text>
<text transform="matrix(0.960,0.002,0,1.100,23.20,108.81)" class="tk" text-anchor="end">-5</text>
<text transform="matrix(1.000,0.002,0,1.050,284.25,150.70)" class="lb" text-anchor="middle" textLength="68.0" lengthAdjust="spacingAndGlyphs">Time (seconds)</text>
<text transform="translate(12.00,63.65) rotate(-90.1)" class="lb" text-anchor="middle" textLength="54.0" lengthAdjust="spacingAndGlyphs">Current [A]</text>
<rect x="508.30" y="7.20" width="32.30" height="39.40" class="lgb" stroke="#707070"/>
<line x1="510.30" y1="14.30" x2="529.80" y2="14.30" stroke="#0072BD" stroke-width="1.3"/>
<text transform="matrix(0.950,0.002,0,1.150,531.60,17.60)" class="lg" text-anchor="start">Ia</text>
<line x1="510.30" y1="27.00" x2="529.80" y2="27.00" stroke="#D95319" stroke-width="1.8"/>
<text transform="matrix(0.950,0.002,0,1.150,531.60,30.30)" class="lg" text-anchor="start">Ib</text>
<line x1="510.30" y1="39.30" x2="529.80" y2="39.30" stroke="#EDB120" stroke-width="1.5"/>
<text transform="matrix(0.950,0.002,0,1.150,531.60,42.60)" class="lg" text-anchor="start">Ic</text>
<line x1="95.35" y1="174.30" x2="95.35" y2="286.10" class="g"/>
<line x1="159.20" y1="174.30" x2="159.20" y2="286.10" class="g"/>
<line x1="223.05" y1="174.30" x2="223.05" y2="286.10" class="g"/>
<line x1="286.90" y1="174.30" x2="286.90" y2="286.10" class="g"/>
<line x1="350.75" y1="174.30" x2="350.75" y2="286.10" class="g"/>
<line x1="414.60" y1="174.30" x2="414.60" y2="286.10" class="g"/>
<line x1="478.45" y1="174.30" x2="478.45" y2="286.10" class="g"/>
<line x1="31.50" y1="190.27" x2="542.30" y2="190.27" class="g"/>
<line x1="31.50" y1="210.24" x2="542.30" y2="210.24" class="g"/>
<line x1="31.50" y1="230.20" x2="542.30" y2="230.20" class="g"/>
<line x1="31.50" y1="250.16" x2="542.30" y2="250.16" class="g"/>
<line x1="31.50" y1="270.13" x2="542.30" y2="270.13" class="g"/>
<line x1="31.50" y1="286.10" x2="31.50" y2="281.10" class="t"/>
<line x1="31.50" y1="174.30" x2="31.50" y2="179.30" class="t"/>
<line x1="95.35" y1="286.10" x2="95.35" y2="281.10" class="t"/>
<line x1="95.35" y1="174.30" x2="95.35" y2="179.30" class="t"/>
<line x1="159.20" y1="286.10" x2="159.20" y2="281.10" class="t"/>
<line x1="159.20" y1="174.30" x2="159.20" y2="179.30" class="t"/>
<line x1="223.05" y1="286.10" x2="223.05" y2="281.10" class="t"/>
<line x1="223.05" y1="174.30" x2="223.05" y2="179.30" class="t"/>
<line x1="286.90" y1="286.10" x2="286.90" y2="281.10" class="t"/>
<line x1="286.90" y1="174.30" x2="286.90" y2="179.30" class="t"/>
<line x1="350.75" y1="286.10" x2="350.75" y2="281.10" class="t"/>
<line x1="350.75" y1="174.30" x2="350.75" y2="179.30" class="t"/>
<line x1="414.60" y1="286.10" x2="414.60" y2="281.10" class="t"/>
<line x1="414.60" y1="174.30" x2="414.60" y2="179.30" class="t"/>
<line x1="478.45" y1="286.10" x2="478.45" y2="281.10" class="t"/>
<line x1="478.45" y1="174.30" x2="478.45" y2="179.30" class="t"/>
<line x1="542.30" y1="286.10" x2="542.30" y2="281.10" class="t"/>
<line x1="542.30" y1="174.30" x2="542.30" y2="179.30" class="t"/>
<line x1="31.50" y1="190.27" x2="36.50" y2="190.27" class="t"/>
<line x1="542.30" y1="190.27" x2="537.30" y2="190.27" class="t"/>
<line x1="31.50" y1="210.24" x2="36.50" y2="210.24" class="t"/>
<line x1="542.30" y1="210.24" x2="537.30" y2="210.24" class="t"/>
<line x1="31.50" y1="230.20" x2="36.50" y2="230.20" class="t"/>
<line x1="542.30" y1="230.20" x2="537.30" y2="230.20" class="t"/>
<line x1="31.50" y1="250.16" x2="36.50" y2="250.16" class="t"/>
<line x1="542.30" y1="250.16" x2="537.30" y2="250.16" class="t"/>
<line x1="31.50" y1="270.13" x2="36.50" y2="270.13" class="t"/>
<line x1="542.30" y1="270.13" x2="537.30" y2="270.13" class="t"/>
<path d="M31.10 174.30H542.70" class="bh"/>
<path d="M31.10 286.30H542.70" class="bb"/>
<path d="M31.50 174.30V286.10M542.30 174.30V286.10" class="bv"/>
<polyline points="31.5,159.03 31.9,158.01 32.3,157.73 32.7,158.19 33.1,159.38 33.5,161.25 33.9,163.72 34.3,166.71 34.7,170.10 35.1,173.75 35.5,177.54 35.9,181.30 36.3,184.90 36.7,188.21 37.1,191.08 37.5,193.42 37.9,195.12 38.3,196.14 38.7,196.42 39.1,195.96 39.5,194.77 39.9,192.91 40.3,190.43 40.7,187.44 41.1,184.06 41.5,180.40 41.9,176.62 42.3,172.85 42.7,169.25 43.1,165.95 43.5,163.07 43.9,160.74 44.3,159.03 44.7,158.01 45.1,157.73 45.5,158.19 45.9,159.38 46.3,161.25 46.7,163.72 47.1,166.71 47.5,170.10 47.9,173.75 48.3,177.54 48.7,181.30 49.1,184.90 49.5,188.21 49.9,191.08 50.3,193.42 50.7,195.12 51.1,196.14 51.5,196.42 51.9,195.96 52.3,194.77 52.7,192.91 53.0,190.43 53.4,187.44 53.8,184.06 54.2,180.40 54.6,176.62 55.0,172.85 55.4,169.25 55.8,165.95 56.2,163.07 56.6,160.74 57.0,159.03 57.4,158.01 57.8,157.73 58.2,158.19 58.6,159.38 59.0,161.25 59.4,163.72 59.8,166.71 60.2,170.10 60.6,173.75 61.0,177.54 61.4,181.30 61.8,184.90 62.2,188.21 62.6,191.08 63.0,193.42 63.4,195.12 63.8,196.14 64.2,196.42 64.6,195.96 65.0,194.77 65.4,192.91 65.8,190.43 66.2,187.44 66.6,184.06 67.0,180.40 67.4,176.62 67.8,172.85 68.2,169.25 68.6,165.95 69.0,163.07 69.4,160.74 69.8,159.03 70.2,158.01 70.6,157.73 71.0,158.19 71.4,159.38 71.8,161.25 72.2,163.72 72.6,166.71 73.0,170.10 73.4,173.75 73.8,177.54 74.2,181.30 74.6,184.90 75.0,188.21 75.4,191.08 75.8,193.42 76.2,195.12 76.6,196.14 77.0,196.42 77.4,195.96 77.8,194.77 78.2,192.91 78.6,190.43 79.0,187.44 79.4,184.06 79.8,180.40 80.2,176.62 80.6,172.85 81.0,169.25 81.4,165.95 81.8,163.07 82.2,160.74 82.6,159.03 83.0,158.01 83.4,157.73 83.8,158.19 84.2,159.38 84.6,161.25 85.0,163.72 85.4,166.71 85.8,170.10 86.2,173.75 86.6,177.54 87.0,181.30 87.4,184.90 87.8,188.21 88.2,191.08 88.6,193.42 89.0,195.12 89.4,196.14 89.8,196.42 90.2,195.96 90.6,194.77 91.0,192.91 91.4,190.43 91.8,187.44 92.2,184.06 92.6,180.40 93.0,176.62 93.4,172.85 93.8,169.25 94.2,165.95 94.6,163.07 95.0,160.74 95.3,159.03 95.7,158.01 96.1,157.73 96.5,158.19 96.9,159.38 97.3,161.25 97.7,163.72 98.1,166.71 98.5,170.10 98.9,173.75 99.3,177.54 99.7,181.30 100.1,184.90 100.5,188.21 100.9,191.08 101.3,193.42 101.7,195.12 102.1,196.14 102.5,196.42 102.9,195.96 103.3,194.77 103.7,192.91 104.1,190.43 104.5,187.44 104.9,184.06 105.3,180.40 105.7,176.62 106.1,172.85 106.5,169.25 106.9,165.95 107.3,163.07 107.7,160.74 108.1,159.03 108.5,158.01 108.9,157.73 109.3,158.19 109.7,159.38 110.1,161.25 110.5,163.72 110.9,166.71 111.3,170.10 111.7,173.75 112.1,177.54 112.5,181.30 112.9,184.90 113.3,188.21 113.7,191.08 114.1,193.42 114.5,195.12 114.9,196.14 115.3,196.42 115.7,195.96 116.1,194.77 116.5,192.91 116.9,190.43 117.3,187.44 117.7,184.06 118.1,180.40 118.5,176.62 118.9,172.85 119.3,169.25 119.7,165.95 120.1,163.07 120.5,160.74 120.9,159.03 121.3,158.01 121.7,157.73 122.1,158.19 122.5,159.38 122.9,161.25 123.3,163.72 123.7,166.71 124.1,170.10 124.5,173.75 124.9,177.54 125.3,181.30 125.7,184.90 126.1,188.21 126.5,191.08 126.9,193.42 127.3,195.12 127.7,196.14 128.1,196.42 128.5,195.96 128.9,194.77 129.3,192.91 129.7,190.43 130.1,187.44 130.5,184.06 130.9,180.40 131.3,176.62 131.7,172.85 132.1,169.25 132.5,165.95 132.9,163.07 133.3,160.74 133.7,159.03 134.1,158.01 134.5,157.73 134.9,158.19 135.3,159.38 135.7,161.25 136.1,163.72 136.5,166.71 136.9,170.10 137.3,173.75 137.7,177.54 138.0,181.30 138.4,184.90 138.8,188.21 139.2,191.08 139.6,193.42 140.0,195.12 140.4,196.14 140.8,196.42 141.2,195.96 141.6,194.77 142.0,192.91 142.4,190.43 142.8,187.44 143.2,184.06 143.6,180.40 144.0,176.62 144.4,172.85 144.8,169.25 145.2,165.95 145.6,163.07 146.0,160.74 146.4,159.03 146.8,158.01 147.2,157.73 147.6,158.19 148.0,159.38 148.4,161.25 148.8,163.72 149.2,166.71 149.6,170.10 150.0,173.75 150.4,177.54 150.8,181.30 151.2,184.90 151.6,188.21 152.0,191.08 152.4,193.42 152.8,195.12 153.2,196.14 153.6,196.42 154.0,195.96 154.4,194.77 154.8,192.91 155.2,190.43 155.6,187.44 156.0,184.06 156.4,180.40 156.8,176.62 157.2,172.85 157.6,169.25 158.0,165.95 158.4,163.07 158.8,160.74 159.2,159.03 159.6,158.01 160.0,157.73 160.4,158.19 160.8,159.38 161.2,161.25 161.6,163.72 162.0,166.71 162.4,170.10 162.8,173.75 163.2,177.54 163.6,181.30 164.0,184.90 164.4,188.21 164.8,191.08 165.2,193.42 165.6,195.12 166.0,196.14 166.4,196.42 166.8,195.96 167.2,194.77 167.6,192.91 168.0,190.43 168.4,187.44 168.8,184.06 169.2,180.40 169.6,176.62 170.0,172.85 170.4,169.25 170.8,165.95 171.2,163.07 171.6,160.74 172.0,159.03 172.4,158.01 172.8,157.73 173.2,158.19 173.6,159.38 174.0,161.25 174.4,163.72 174.8,166.71 175.2,170.10 175.6,173.75 176.0,177.54 176.4,181.30 176.8,184.90 177.2,188.21 177.6,191.08 178.0,193.42 178.4,195.12 178.8,196.14 179.2,196.42 179.6,195.96 180.0,194.77 180.4,192.91 180.7,190.43 181.1,187.44 181.5,184.06 181.9,180.40 182.3,176.62 182.7,172.85 183.1,169.25 183.5,165.95 183.9,163.07 184.3,160.74 184.7,159.03 185.1,158.01 185.5,157.73 185.9,158.19 186.3,159.38 186.7,161.25 187.1,163.72 187.5,166.71 187.9,170.10 188.3,173.75 188.7,177.54 189.1,181.30 189.5,184.90 189.9,188.21 190.3,191.08 190.7,193.42 191.1,195.12 191.5,196.14 191.9,196.42 192.3,195.96 192.7,194.77 193.1,192.91 193.5,190.43 193.9,187.44 194.3,184.06 194.7,180.40 195.1,176.62 195.5,172.85 195.9,169.25 196.3,165.95 196.7,163.07 197.1,160.74 197.5,159.03 197.9,158.01 198.3,157.73 198.7,158.19 199.1,159.38 199.5,161.25 199.9,163.72 200.3,166.71 200.7,170.10 201.1,173.75 201.5,177.54 201.9,181.30 202.3,184.90 202.7,188.21 203.1,191.08 203.5,193.42 203.9,195.12 204.3,196.14 204.7,196.42 205.1,195.96 205.5,194.77 205.9,192.91 206.3,190.43 206.7,187.44 207.1,184.06 207.5,180.40 207.9,176.62 208.3,172.85 208.7,169.25 209.1,165.95 209.5,163.07 209.9,160.74 210.3,159.03 210.7,158.01 211.1,157.73 211.5,158.19 211.9,159.38 212.3,161.25 212.7,163.72 213.1,166.71 213.5,170.10 213.9,173.75 214.3,177.54 214.7,181.30 215.1,184.90 215.5,188.21 215.9,191.08 216.3,193.42 216.7,195.12 217.1,196.14 217.5,196.42 217.9,195.96 218.3,194.77 218.7,192.91 219.1,190.43 219.5,187.44 219.9,184.06 220.3,180.40 220.7,176.62 221.1,172.85 221.5,169.25 221.9,165.95 222.3,163.07 222.7,160.74 223.0,159.03 223.4,158.01 223.8,157.73 224.2,158.19 224.6,159.38 225.0,161.25 225.4,163.72 225.8,166.71 226.2,170.10 226.6,173.75 227.0,177.54 227.4,181.30 227.8,184.90 228.2,188.21 228.6,191.08 229.0,193.42 229.4,195.12 229.8,196.14 230.2,196.42 230.6,195.96 231.0,194.77 231.4,192.91 231.8,190.43 232.2,187.44 232.6,184.06 233.0,180.40 233.4,176.62 233.8,172.85 234.2,169.25 234.6,165.95 235.0,163.07 235.4,160.74 235.8,159.03 236.2,158.01 236.6,157.73 237.0,158.19 237.4,159.38 237.8,161.25 238.2,163.72 238.6,166.71 239.0,170.10 239.4,173.75 239.8,177.54 240.2,181.30 240.6,184.90 241.0,188.21 241.4,191.08 241.8,193.42 242.2,195.12 242.6,196.14 243.0,196.42 243.4,195.96 243.8,194.77 244.2,192.91 244.6,190.43 245.0,187.44 245.4,184.06 245.8,180.40 246.2,176.62 246.6,172.85 247.0,169.25 247.4,165.95 247.8,163.07 248.2,160.74 248.6,159.03 249.0,158.01 249.4,157.73 249.8,158.19 250.2,159.38 250.6,161.25 251.0,163.72 251.4,166.71 251.8,170.10 252.2,173.75 252.6,177.54 253.0,181.30 253.4,184.90 253.8,188.21 254.2,191.08 254.6,193.42 255.0,195.12 255.4,196.14 255.8,196.42 256.2,195.96 256.6,194.77 257.0,192.91 257.4,190.43 257.8,187.44 258.2,184.06 258.6,180.40 259.0,176.62 259.4,172.85 259.8,169.25 260.2,165.95 260.6,163.07 261.0,160.74 261.4,159.03 261.8,158.01 262.2,157.73 262.6,158.19 263.0,159.38 263.4,161.25 263.8,163.72 264.2,166.71 264.6,170.10 265.0,173.75 265.4,177.54 265.7,181.30 266.1,184.90 266.5,188.21 266.9,191.08 267.3,193.42 267.7,195.12 268.1,196.14 268.5,196.42 268.9,195.96 269.3,194.77 269.7,192.91 270.1,190.43 270.5,187.44 270.9,184.06 271.3,180.40 271.7,176.62 272.1,172.85 272.5,169.25 272.9,165.95 273.3,163.07 273.7,160.74 274.1,159.03 274.5,158.01 274.9,157.73 275.3,158.19 275.7,159.38 276.1,161.25 276.5,163.72 276.9,166.71 277.3,170.10 277.7,173.75 278.1,177.54 278.5,181.30 278.9,184.90 279.3,188.21 279.7,191.08 280.1,193.42 280.5,195.12 280.9,196.14 281.3,196.42 281.7,195.96 282.1,194.77 282.5,192.91 282.9,190.43 283.3,187.44 283.7,184.06 284.1,180.40 284.5,176.62 284.9,172.85 285.3,169.25 285.7,165.95 286.1,163.07 286.5,160.74 286.9,159.03 286.9,140.17 287.3,138.33 287.7,137.97 288.1,139.08 288.5,141.61 288.9,145.46 289.3,150.48 289.7,156.48 290.1,163.24 290.5,170.50 290.9,177.98 291.3,185.41 291.7,192.50 292.1,198.98 292.5,204.62 292.9,209.19 293.3,212.53 293.7,214.50 294.1,215.04 294.5,214.12 294.9,211.78 295.3,208.11 295.7,203.25 296.1,197.39 296.5,190.75 296.9,183.59 297.3,176.18 297.7,168.81 298.1,161.75 298.5,155.29 298.9,149.66 299.3,145.09 299.7,141.74 300.1,139.76 300.5,139.21 300.9,140.11 301.3,142.44 301.7,146.09 302.1,150.94 302.5,156.79 302.9,163.42 303.3,170.57 303.7,177.97 304.1,185.34 304.5,192.39 304.9,198.86 305.3,204.48 305.7,209.06 306.1,212.40 306.5,214.39 306.9,214.94 307.3,214.04 307.7,211.71 308.1,208.06 308.4,203.21 308.8,197.37 309.2,190.74 309.6,183.58 310.0,176.18 310.4,168.81 310.8,161.76 311.2,155.30 311.6,149.67 312.0,145.10 312.4,141.76 312.8,139.77 313.2,139.22 313.6,140.12 314.0,142.44 314.4,146.10 314.8,150.94 315.2,156.79 315.6,163.42 316.0,170.57 316.4,177.97 316.8,185.34 317.2,192.39 317.6,198.86 318.0,204.48 318.4,209.05 318.8,212.40 319.2,214.38 319.6,214.94 320.0,214.03 320.4,211.71 320.8,208.06 321.2,203.21 321.6,197.37 322.0,190.74 322.4,183.58 322.8,176.18 323.2,168.81 323.6,161.76 324.0,155.30 324.4,149.67 324.8,145.10 325.2,141.76 325.6,139.77 326.0,139.22 326.4,140.12 326.8,142.44 327.2,146.10 327.6,150.94 328.0,156.79 328.4,163.42 328.8,170.57 329.2,177.97 329.6,185.34 330.0,192.39 330.4,198.86 330.8,204.48 331.2,209.05 331.6,212.40 332.0,214.38 332.4,214.94 332.8,214.03 333.2,211.71 333.6,208.06 334.0,203.21 334.4,197.37 334.8,190.74 335.2,183.58 335.6,176.18 336.0,168.81 336.4,161.76 336.8,155.30 337.2,149.67 337.6,145.10 338.0,141.76 338.4,139.77 338.8,139.22 339.2,140.12 339.6,142.44 340.0,146.10 340.4,150.94 340.8,156.79 341.2,163.42 341.6,170.57 342.0,177.97 342.4,185.34 342.8,192.39 343.2,198.86 343.6,204.48 344.0,209.05 344.4,212.40 344.8,214.38 345.2,214.94 345.6,214.03 346.0,211.71 346.4,208.06 346.8,203.21 347.2,197.37 347.6,190.74 348.0,183.58 348.4,176.18 348.8,168.81 349.2,161.76 349.6,155.30 350.0,149.67 350.4,145.10 350.8,141.76 351.1,139.77 351.5,139.22 351.9,140.12 352.3,142.44 352.7,146.10 353.1,150.94 353.5,156.79 353.9,163.42 354.3,170.57 354.7,177.97 355.1,185.34 355.5,192.39 355.9,198.86 356.3,204.48 356.7,209.05 357.1,212.40 357.5,214.38 357.9,214.94 358.3,214.03 358.7,211.71 359.1,208.06 359.5,203.21 359.9,197.37 360.3,190.74 360.7,183.58 361.1,176.18 361.5,168.81 361.9,161.76 362.3,155.30 362.7,149.67 363.1,145.10 363.5,141.76 363.9,139.77 364.3,139.22 364.7,140.12 365.1,142.44 365.5,146.10 365.9,150.94 366.3,156.79 366.7,163.42 367.1,170.57 367.5,177.97 367.9,185.34 368.3,192.39 368.7,198.86 369.1,204.48 369.5,209.05 369.9,212.40 370.3,214.38 370.7,214.94 371.1,214.03 371.5,211.71 371.9,208.06 372.3,203.21 372.7,197.37 373.1,190.74 373.5,183.58 373.9,176.18 374.3,168.81 374.7,161.76 375.1,155.30 375.5,149.67 375.9,145.10 376.3,141.76 376.7,139.77 377.1,139.22 377.5,140.12 377.9,142.44 378.3,146.10 378.7,150.94 379.1,156.79 379.5,163.42 379.9,170.57 380.3,177.97 380.7,185.34 381.1,192.39 381.5,198.86 381.9,204.48 382.3,209.05 382.7,212.40 383.1,214.38 383.5,214.94 383.9,214.03 384.3,211.71 384.7,208.06 385.1,203.21 385.5,197.37 385.9,190.74 386.3,183.58 386.7,176.18 387.1,168.81 387.5,161.76 387.9,155.30 388.3,149.67 388.7,145.10 389.1,141.76 389.5,139.77 389.9,139.22 390.3,140.12 390.7,142.44 391.1,146.10 391.5,150.94 391.9,156.79 392.3,163.42 392.7,170.57 393.1,177.97 393.4,185.34 393.8,192.39 394.2,198.86 394.6,204.48 395.0,209.05 395.4,212.40 395.8,214.38 396.2,214.94 396.6,214.03 397.0,211.71 397.4,208.06 397.8,203.21 398.2,197.37 398.6,190.74 399.0,183.58 399.4,176.18 399.8,168.81 400.2,161.76 400.6,155.30 401.0,149.67 401.4,145.10 401.8,141.76 402.2,139.77 402.6,139.22 403.0,140.12 403.4,142.44 403.8,146.10 404.2,150.94 404.6,156.79 405.0,163.42 405.4,170.57 405.8,177.97 406.2,185.34 406.6,192.39 407.0,198.86 407.4,204.48 407.8,209.05 408.2,212.40 408.6,214.38 409.0,214.94 409.4,214.03 409.8,211.71 410.2,208.06 410.6,203.21 411.0,197.37 411.4,190.74 411.8,183.58 412.2,176.18 412.6,168.81 413.0,161.76 413.4,155.30 413.8,149.67 414.2,145.10 414.6,141.76 415.0,139.77 415.4,139.22 415.8,140.12 416.2,142.44 416.6,146.10 417.0,150.94 417.4,156.79 417.8,163.42 418.2,170.57 418.6,177.97 419.0,185.34 419.4,192.39 419.8,198.86 420.2,204.48 420.6,209.05 421.0,212.40 421.4,214.38 421.8,214.94 422.2,214.03 422.6,211.71 423.0,208.06 423.4,203.21 423.8,197.37 424.2,190.74 424.6,183.58 425.0,176.18 425.4,168.81 425.8,161.76 426.2,155.30 426.6,149.67 427.0,145.10 427.4,141.76 427.8,139.77 428.2,139.22 428.6,140.12 429.0,142.44 429.4,146.10 429.8,150.94 430.2,156.79 430.6,163.42 431.0,170.57 431.4,177.97 431.8,185.34 432.2,192.39 432.6,198.86 433.0,204.48 433.4,209.05 433.8,212.40 434.2,214.38 434.6,214.94 435.0,214.03 435.4,211.71 435.8,208.06 436.1,203.21 436.5,197.37 436.9,190.74 437.3,183.58 437.7,176.18 438.1,168.81 438.5,161.76 438.9,155.30 439.3,149.67 439.7,145.10 440.1,141.76 440.5,139.77 440.9,139.22 441.3,140.12 441.7,142.44 442.1,146.10 442.5,150.94 442.9,156.79 443.3,163.42 443.7,170.57 444.1,177.97 444.5,185.34 444.9,192.39 445.3,198.86 445.7,204.48 446.1,209.05 446.5,212.40 446.9,214.38 447.3,214.94 447.7,214.03 448.1,211.71 448.5,208.06 448.9,203.21 449.3,197.37 449.7,190.74 450.1,183.58 450.5,176.18 450.9,168.81 451.3,161.76 451.7,155.30 452.1,149.67 452.5,145.10 452.9,141.76 453.3,139.77 453.7,139.22 454.1,140.12 454.5,142.44 454.9,146.10 455.3,150.94 455.7,156.79 456.1,163.42 456.5,170.57 456.9,177.97 457.3,185.34 457.7,192.39 458.1,198.86 458.5,204.48 458.9,209.05 459.3,212.40 459.7,214.38 460.1,214.94 460.5,214.03 460.9,211.71 461.3,208.06 461.7,203.21 462.1,197.37 462.5,190.74 462.9,183.58 463.3,176.18 463.7,168.81 464.1,161.76 464.5,155.30 464.9,149.67 465.3,145.10 465.7,141.76 466.1,139.77 466.5,139.22 466.9,140.12 467.3,142.44 467.7,146.10 468.1,150.94 468.5,156.79 468.9,163.42 469.3,170.57 469.7,177.97 470.1,185.34 470.5,192.39 470.9,198.86 471.3,204.48 471.7,209.05 472.1,212.40 472.5,214.38 472.9,214.94 473.3,214.03 473.7,211.71 474.1,208.06 474.5,203.21 474.9,197.37 475.3,190.74 475.7,183.58 476.1,176.18 476.5,168.81 476.9,161.76 477.3,155.30 477.7,149.67 478.1,145.10 478.4,141.76 478.8,139.77 479.2,139.22 479.6,140.12 480.0,142.44 480.4,146.10 480.8,150.94 481.2,156.79 481.6,163.42 482.0,170.57 482.4,177.97 482.8,185.34 483.2,192.39 483.6,198.86 484.0,204.48 484.4,209.05 484.8,212.40 485.2,214.38 485.6,214.94 486.0,214.03 486.4,211.71 486.8,208.06 487.2,203.21 487.6,197.37 488.0,190.74 488.4,183.58 488.8,176.18 489.2,168.81 489.6,161.76 490.0,155.30 490.4,149.67 490.8,145.10 491.2,141.76 491.6,139.77 492.0,139.22 492.4,140.12 492.8,142.44 493.2,146.10 493.6,150.94 494.0,156.79 494.4,163.42 494.8,170.57 495.2,177.97 495.6,185.34 496.0,192.39 496.4,198.86 496.8,204.48 497.2,209.05 497.6,212.40 498.0,214.38 498.4,214.94 498.8,214.03 499.2,211.71 499.6,208.06 500.0,203.21 500.4,197.37 500.8,190.74 501.2,183.58 501.6,176.18 502.0,168.81 502.4,161.76 502.8,155.30 503.2,149.67 503.6,145.10 504.0,141.76 504.4,139.77 504.8,139.22 505.2,140.12 505.6,142.44 506.0,146.10 506.4,150.94 506.8,156.79 507.2,163.42 507.6,170.57 508.0,177.97 508.4,185.34 508.8,192.39 509.2,198.86 509.6,204.48 510.0,209.05 510.4,212.40 510.8,214.38 511.2,214.94 511.6,214.03 512.0,211.71 512.4,208.06 512.8,203.21 513.2,197.37 513.6,190.74 514.0,183.58 514.4,176.18 514.8,168.81 515.2,161.76 515.6,155.30 516.0,149.67 516.4,145.10 516.8,141.76 517.2,139.77 517.6,139.22 518.0,140.12 518.4,142.44 518.8,146.10 519.2,150.94 519.6,156.79 520.0,163.42 520.4,170.57 520.8,177.97 521.1,185.34 521.5,192.39 521.9,198.86 522.3,204.48 522.7,209.05 523.1,212.40 523.5,214.38 523.9,214.94 524.3,214.03 524.7,211.71 525.1,208.06 525.5,203.21 525.9,197.37 526.3,190.74 526.7,183.58 527.1,176.18 527.5,168.81 527.9,161.76 528.3,155.30 528.7,149.67 529.1,145.10 529.5,141.76 529.9,139.77 530.3,139.22 530.7,140.12 531.1,142.44 531.5,146.10 531.9,150.94 532.3,156.79 532.7,163.42 533.1,170.57 533.5,177.97 533.9,185.34 534.3,192.39 534.7,198.86 535.1,204.48 535.5,209.05 535.9,212.40 536.3,214.38 536.7,214.94 537.1,214.03 537.5,211.71 537.9,208.06 538.3,203.21 538.7,197.37 539.1,190.74 539.5,183.58 539.9,176.18 540.3,168.81 540.7,161.76 541.1,155.30 541.5,149.67 541.9,145.10 542.3,141.76" fill="none" stroke="#0072BD" stroke-width="1.6" stroke-linejoin="round" transform="scale(1,1.3)"/>
<polyline points="31.5,192.15 31.9,189.49 32.3,186.35 32.7,182.86 33.1,179.15 33.5,175.35 33.9,171.63 34.3,168.11 34.7,164.94 35.1,162.23 35.5,160.09 35.9,158.61 36.3,157.84 36.7,157.80 37.1,158.51 37.5,159.93 37.9,162.01 38.3,164.67 38.7,167.80 39.1,171.29 39.5,175.01 39.9,178.80 40.3,182.53 40.7,186.04 41.1,189.22 41.5,191.92 41.9,194.06 42.3,195.54 42.7,196.32 43.1,196.35 43.5,195.64 43.9,194.22 44.3,192.15 44.7,189.49 45.1,186.35 45.5,182.86 45.9,179.15 46.3,175.35 46.7,171.63 47.1,168.11 47.5,164.94 47.9,162.23 48.3,160.09 48.7,158.61 49.1,157.84 49.5,157.80 49.9,158.51 50.3,159.93 50.7,162.01 51.1,164.67 51.5,167.80 51.9,171.29 52.3,175.01 52.7,178.80 53.0,182.53 53.4,186.04 53.8,189.22 54.2,191.92 54.6,194.06 55.0,195.54 55.4,196.32 55.8,196.35 56.2,195.64 56.6,194.22 57.0,192.15 57.4,189.49 57.8,186.35 58.2,182.86 58.6,179.15 59.0,175.35 59.4,171.63 59.8,168.11 60.2,164.94 60.6,162.23 61.0,160.09 61.4,158.61 61.8,157.84 62.2,157.80 62.6,158.51 63.0,159.93 63.4,162.01 63.8,164.67 64.2,167.80 64.6,171.29 65.0,175.01 65.4,178.80 65.8,182.53 66.2,186.04 66.6,189.22 67.0,191.92 67.4,194.06 67.8,195.54 68.2,196.32 68.6,196.35 69.0,195.64 69.4,194.22 69.8,192.15 70.2,189.49 70.6,186.35 71.0,182.86 71.4,179.15 71.8,175.35 72.2,171.63 72.6,168.11 73.0,164.94 73.4,162.23 73.8,160.09 74.2,158.61 74.6,157.84 75.0,157.80 75.4,158.51 75.8,159.93 76.2,162.01 76.6,164.67 77.0,167.80 77.4,171.29 77.8,175.01 78.2,178.80 78.6,182.53 79.0,186.04 79.4,189.22 79.8,191.92 80.2,194.06 80.6,195.54 81.0,196.32 81.4,196.35 81.8,195.64 82.2,194.22 82.6,192.15 83.0,189.49 83.4,186.35 83.8,182.86 84.2,179.15 84.6,175.35 85.0,171.63 85.4,168.11 85.8,164.94 86.2,162.23 86.6,160.09 87.0,158.61 87.4,157.84 87.8,157.80 88.2,158.51 88.6,159.93 89.0,162.01 89.4,164.67 89.8,167.80 90.2,171.29 90.6,175.01 91.0,178.80 91.4,182.53 91.8,186.04 92.2,189.22 92.6,191.92 93.0,194.06 93.4,195.54 93.8,196.32 94.2,196.35 94.6,195.64 95.0,194.22 95.3,192.15 95.7,189.49 96.1,186.35 96.5,182.86 96.9,179.15 97.3,175.35 97.7,171.63 98.1,168.11 98.5,164.94 98.9,162.23 99.3,160.09 99.7,158.61 100.1,157.84 100.5,157.80 100.9,158.51 101.3,159.93 101.7,162.01 102.1,164.67 102.5,167.80 102.9,171.29 103.3,175.01 103.7,178.80 104.1,182.53 104.5,186.04 104.9,189.22 105.3,191.92 105.7,194.06 106.1,195.54 106.5,196.32 106.9,196.35 107.3,195.64 107.7,194.22 108.1,192.15 108.5,189.49 108.9,186.35 109.3,182.86 109.7,179.15 110.1,175.35 110.5,171.63 110.9,168.11 111.3,164.94 111.7,162.23 112.1,160.09 112.5,158.61 112.9,157.84 113.3,157.80 113.7,158.51 114.1,159.93 114.5,162.01 114.9,164.67 115.3,167.80 115.7,171.29 116.1,175.01 116.5,178.80 116.9,182.53 117.3,186.04 117.7,189.22 118.1,191.92 118.5,194.06 118.9,195.54 119.3,196.32 119.7,196.35 120.1,195.64 120.5,194.22 120.9,192.15 121.3,189.49 121.7,186.35 122.1,182.86 122.5,179.15 122.9,175.35 123.3,171.63 123.7,168.11 124.1,164.94 124.5,162.23 124.9,160.09 125.3,158.61 125.7,157.84 126.1,157.80 126.5,158.51 126.9,159.93 127.3,162.01 127.7,164.67 128.1,167.80 128.5,171.29 128.9,175.01 129.3,178.80 129.7,182.53 130.1,186.04 130.5,189.22 130.9,191.92 131.3,194.06 131.7,195.54 132.1,196.32 132.5,196.35 132.9,195.64 133.3,194.22 133.7,192.15 134.1,189.49 134.5,186.35 134.9,182.86 135.3,179.15 135.7,175.35 136.1,171.63 136.5,168.11 136.9,164.94 137.3,162.23 137.7,160.09 138.0,158.61 138.4,157.84 138.8,157.80 139.2,158.51 139.6,159.93 140.0,162.01 140.4,164.67 140.8,167.80 141.2,171.29 141.6,175.01 142.0,178.80 142.4,182.53 142.8,186.04 143.2,189.22 143.6,191.92 144.0,194.06 144.4,195.54 144.8,196.32 145.2,196.35 145.6,195.64 146.0,194.22 146.4,192.15 146.8,189.49 147.2,186.35 147.6,182.86 148.0,179.15 148.4,175.35 148.8,171.63 149.2,168.11 149.6,164.94 150.0,162.23 150.4,160.09 150.8,158.61 151.2,157.84 151.6,157.80 152.0,158.51 152.4,159.93 152.8,162.01 153.2,164.67 153.6,167.80 154.0,171.29 154.4,175.01 154.8,178.80 155.2,182.53 155.6,186.04 156.0,189.22 156.4,191.92 156.8,194.06 157.2,195.54 157.6,196.32 158.0,196.35 158.4,195.64 158.8,194.22 159.2,192.15 159.6,189.49 160.0,186.35 160.4,182.86 160.8,179.15 161.2,175.35 161.6,171.63 162.0,168.11 162.4,164.94 162.8,162.23 163.2,160.09 163.6,158.61 164.0,157.84 164.4,157.80 164.8,158.51 165.2,159.93 165.6,162.01 166.0,164.67 166.4,167.80 166.8,171.29 167.2,175.01 167.6,178.80 168.0,182.53 168.4,186.04 168.8,189.22 169.2,191.92 169.6,194.06 170.0,195.54 170.4,196.32 170.8,196.35 171.2,195.64 171.6,194.22 172.0,192.15 172.4,189.49 172.8,186.35 173.2,182.86 173.6,179.15 174.0,175.35 174.4,171.63 174.8,168.11 175.2,164.94 175.6,162.23 176.0,160.09 176.4,158.61 176.8,157.84 177.2,157.80 177.6,158.51 178.0,159.93 178.4,162.01 178.8,164.67 179.2,167.80 179.6,171.29 180.0,175.01 180.4,178.80 180.7,182.53 181.1,186.04 181.5,189.22 181.9,191.92 182.3,194.06 182.7,195.54 183.1,196.32 183.5,196.35 183.9,195.64 184.3,194.22 184.7,192.15 185.1,189.49 185.5,186.35 185.9,182.86 186.3,179.15 186.7,175.35 187.1,171.63 187.5,168.11 187.9,164.94 188.3,162.23 188.7,160.09 189.1,158.61 189.5,157.84 189.9,157.80 190.3,158.51 190.7,159.93 191.1,162.01 191.5,164.67 191.9,167.80 192.3,171.29 192.7,175.01 193.1,178.80 193.5,182.53 193.9,186.04 194.3,189.22 194.7,191.92 195.1,194.06 195.5,195.54 195.9,196.32 196.3,196.35 196.7,195.64 197.1,194.22 197.5,192.15 197.9,189.49 198.3,186.35 198.7,182.86 199.1,179.15 199.5,175.35 199.9,171.63 200.3,168.11 200.7,164.94 201.1,162.23 201.5,160.09 201.9,158.61 202.3,157.84 202.7,157.80 203.1,158.51 203.5,159.93 203.9,162.01 204.3,164.67 204.7,167.80 205.1,171.29 205.5,175.01 205.9,178.80 206.3,182.53 206.7,186.04 207.1,189.22 207.5,191.92 207.9,194.06 208.3,195.54 208.7,196.32 209.1,196.35 209.5,195.64 209.9,194.22 210.3,192.15 210.7,189.49 211.1,186.35 211.5,182.86 211.9,179.15 212.3,175.35 212.7,171.63 213.1,168.11 213.5,164.94 213.9,162.23 214.3,160.09 214.7,158.61 215.1,157.84 215.5,157.80 215.9,158.51 216.3,159.93 216.7,162.01 217.1,164.67 217.5,167.80 217.9,171.29 218.3,175.01 218.7,178.80 219.1,182.53 219.5,186.04 219.9,189.22 220.3,191.92 220.7,194.06 221.1,195.54 221.5,196.32 221.9,196.35 222.3,195.64 222.7,194.22 223.0,192.15 223.4,189.49 223.8,186.35 224.2,182.86 224.6,179.15 225.0,175.35 225.4,171.63 225.8,168.11 226.2,164.94 226.6,162.23 227.0,160.09 227.4,158.61 227.8,157.84 228.2,157.80 228.6,158.51 229.0,159.93 229.4,162.01 229.8,164.67 230.2,167.80 230.6,171.29 231.0,175.01 231.4,178.80 231.8,182.53 232.2,186.04 232.6,189.22 233.0,191.92 233.4,194.06 233.8,195.54 234.2,196.32 234.6,196.35 235.0,195.64 235.4,194.22 235.8,192.15 236.2,189.49 236.6,186.35 237.0,182.86 237.4,179.15 237.8,175.35 238.2,171.63 238.6,168.11 239.0,164.94 239.4,162.23 239.8,160.09 240.2,158.61 240.6,157.84 241.0,157.80 241.4,158.51 241.8,159.93 242.2,162.01 242.6,164.67 243.0,167.80 243.4,171.29 243.8,175.01 244.2,178.80 244.6,182.53 245.0,186.04 245.4,189.22 245.8,191.92 246.2,194.06 246.6,195.54 247.0,196.32 247.4,196.35 247.8,195.64 248.2,194.22 248.6,192.15 249.0,189.49 249.4,186.35 249.8,182.86 250.2,179.15 250.6,175.35 251.0,171.63 251.4,168.11 251.8,164.94 252.2,162.23 252.6,160.09 253.0,158.61 253.4,157.84 253.8,157.80 254.2,158.51 254.6,159.93 255.0,162.01 255.4,164.67 255.8,167.80 256.2,171.29 256.6,175.01 257.0,178.80 257.4,182.53 257.8,186.04 258.2,189.22 258.6,191.92 259.0,194.06 259.4,195.54 259.8,196.32 260.2,196.35 260.6,195.64 261.0,194.22 261.4,192.15 261.8,189.49 262.2,186.35 262.6,182.86 263.0,179.15 263.4,175.35 263.8,171.63 264.2,168.11 264.6,164.94 265.0,162.23 265.4,160.09 265.7,158.61 266.1,157.84 266.5,157.80 266.9,158.51 267.3,159.93 267.7,162.01 268.1,164.67 268.5,167.80 268.9,171.29 269.3,175.01 269.7,178.80 270.1,182.53 270.5,186.04 270.9,189.22 271.3,191.92 271.7,194.06 272.1,195.54 272.5,196.32 272.9,196.35 273.3,195.64 273.7,194.22 274.1,192.15 274.5,189.49 274.9,186.35 275.3,182.86 275.7,179.15 276.1,175.35 276.5,171.63 276.9,168.11 277.3,164.94 277.7,162.23 278.1,160.09 278.5,158.61 278.9,157.84 279.3,157.80 279.7,158.51 280.1,159.93 280.5,162.01 280.9,164.67 281.3,167.80 281.7,171.29 282.1,175.01 282.5,178.80 282.9,182.53 283.3,186.04 283.7,189.22 284.1,191.92 284.5,194.06 284.9,195.54 285.3,196.32 285.7,196.35 286.1,195.64 286.5,194.22 286.9,192.15 286.9,207.89 287.3,202.30 287.7,195.83 288.1,188.72 288.5,181.23 288.9,173.64 289.3,166.22 289.7,159.26 290.1,153.01 290.5,147.70 290.9,143.53 291.3,140.65 291.7,139.16 292.1,139.13 292.5,140.56 292.9,143.37 293.3,147.48 293.7,152.71 294.1,158.87 294.5,165.73 294.9,173.02 295.3,180.45 295.7,187.76 296.1,194.65 296.5,200.86 296.9,206.16 297.3,210.34 297.7,213.24 298.1,214.75 298.5,214.82 298.9,213.43 299.3,210.65 299.7,206.58 300.1,201.37 300.5,195.23 300.9,188.40 301.3,181.13 301.7,173.71 302.1,166.41 302.5,159.53 302.9,153.32 303.3,148.02 303.7,143.84 304.1,140.94 304.5,139.42 304.9,139.36 305.3,140.74 305.7,143.52 306.1,147.59 306.5,152.79 306.9,158.92 307.3,165.76 307.7,173.02 308.1,180.45 308.4,187.74 308.8,194.63 309.2,200.84 309.6,206.13 310.0,210.31 310.4,213.22 310.8,214.73 311.2,214.80 311.6,213.42 312.0,210.64 312.4,206.57 312.8,201.37 313.2,195.23 313.6,188.40 314.0,181.13 314.4,173.71 314.8,166.41 315.2,159.53 315.6,153.32 316.0,148.02 316.4,143.84 316.8,140.94 317.2,139.42 317.6,139.36 318.0,140.74 318.4,143.52 318.8,147.59 319.2,152.79 319.6,158.92 320.0,165.76 320.4,173.02 320.8,180.45 321.2,187.74 321.6,194.63 322.0,200.84 322.4,206.13 322.8,210.31 323.2,213.22 323.6,214.73 324.0,214.80 324.4,213.41 324.8,210.64 325.2,206.57 325.6,201.37 326.0,195.23 326.4,188.40 326.8,181.13 327.2,173.71 327.6,166.41 328.0,159.53 328.4,153.32 328.8,148.02 329.2,143.84 329.6,140.94 330.0,139.42 330.4,139.36 330.8,140.74 331.2,143.52 331.6,147.59 332.0,152.79 332.4,158.92 332.8,165.76 333.2,173.02 333.6,180.45 334.0,187.74 334.4,194.63 334.8,200.84 335.2,206.13 335.6,210.31 336.0,213.22 336.4,214.73 336.8,214.80 337.2,213.41 337.6,210.64 338.0,206.57 338.4,201.37 338.8,195.23 339.2,188.40 339.6,181.13 340.0,173.71 340.4,166.41 340.8,159.53 341.2,153.32 341.6,148.02 342.0,143.84 342.4,140.94 342.8,139.42 343.2,139.36 343.6,140.74 344.0,143.52 344.4,147.59 344.8,152.79 345.2,158.92 345.6,165.76 346.0,173.02 346.4,180.45 346.8,187.74 347.2,194.63 347.6,200.84 348.0,206.13 348.4,210.31 348.8,213.22 349.2,214.73 349.6,214.80 350.0,213.41 350.4,210.64 350.8,206.57 351.1,201.37 351.5,195.23 351.9,188.40 352.3,181.13 352.7,173.71 353.1,166.41 353.5,159.53 353.9,153.32 354.3,148.02 354.7,143.84 355.1,140.94 355.5,139.42 355.9,139.36 356.3,140.74 356.7,143.52 357.1,147.59 357.5,152.79 357.9,158.92 358.3,165.76 358.7,173.02 359.1,180.45 359.5,187.74 359.9,194.63 360.3,200.84 360.7,206.13 361.1,210.31 361.5,213.22 361.9,214.73 362.3,214.80 362.7,213.41 363.1,210.64 363.5,206.57 363.9,201.37 364.3,195.23 364.7,188.40 365.1,181.13 365.5,173.71 365.9,166.41 366.3,159.53 366.7,153.32 367.1,148.02 367.5,143.84 367.9,140.94 368.3,139.42 368.7,139.36 369.1,140.74 369.5,143.52 369.9,147.59 370.3,152.79 370.7,158.92 371.1,165.76 371.5,173.02 371.9,180.45 372.3,187.74 372.7,194.63 373.1,200.84 373.5,206.13 373.9,210.31 374.3,213.22 374.7,214.73 375.1,214.80 375.5,213.41 375.9,210.64 376.3,206.57 376.7,201.37 377.1,195.23 377.5,188.40 377.9,181.13 378.3,173.71 378.7,166.41 379.1,159.53 379.5,153.32 379.9,148.02 380.3,143.84 380.7,140.94 381.1,139.42 381.5,139.36 381.9,140.74 382.3,143.52 382.7,147.59 383.1,152.79 383.5,158.92 383.9,165.76 384.3,173.02 384.7,180.45 385.1,187.74 385.5,194.63 385.9,200.84 386.3,206.13 386.7,210.31 387.1,213.22 387.5,214.73 387.9,214.80 388.3,213.41 388.7,210.64 389.1,206.57 389.5,201.37 389.9,195.23 390.3,188.40 390.7,181.13 391.1,173.71 391.5,166.41 391.9,159.53 392.3,153.32 392.7,148.02 393.1,143.84 393.4,140.94 393.8,139.42 394.2,139.36 394.6,140.74 395.0,143.52 395.4,147.59 395.8,152.79 396.2,158.92 396.6,165.76 397.0,173.02 397.4,180.45 397.8,187.74 398.2,194.63 398.6,200.84 399.0,206.13 399.4,210.31 399.8,213.22 400.2,214.73 400.6,214.80 401.0,213.41 401.4,210.64 401.8,206.57 402.2,201.37 402.6,195.23 403.0,188.40 403.4,181.13 403.8,173.71 404.2,166.41 404.6,159.53 405.0,153.32 405.4,148.02 405.8,143.84 406.2,140.94 406.6,139.42 407.0,139.36 407.4,140.74 407.8,143.52 408.2,147.59 408.6,152.79 409.0,158.92 409.4,165.76 409.8,173.02 410.2,180.45 410.6,187.74 411.0,194.63 411.4,200.84 411.8,206.13 412.2,210.31 412.6,213.22 413.0,214.73 413.4,214.80 413.8,213.41 414.2,210.64 414.6,206.57 415.0,201.37 415.4,195.23 415.8,188.40 416.2,181.13 416.6,173.71 417.0,166.41 417.4,159.53 417.8,153.32 418.2,148.02 418.6,143.84 419.0,140.94 419.4,139.42 419.8,139.36 420.2,140.74 420.6,143.52 421.0,147.59 421.4,152.79 421.8,158.92 422.2,165.76 422.6,173.02 423.0,180.45 423.4,187.74 423.8,194.63 424.2,200.84 424.6,206.13 425.0,210.31 425.4,213.22 425.8,214.73 426.2,214.80 426.6,213.41 427.0,210.64 427.4,206.57 427.8,201.37 428.2,195.23 428.6,188.40 429.0,181.13 429.4,173.71 429.8,166.41 430.2,159.53 430.6,153.32 431.0,148.02 431.4,143.84 431.8,140.94 432.2,139.42 432.6,139.36 433.0,140.74 433.4,143.52 433.8,147.59 434.2,152.79 434.6,158.92 435.0,165.76 435.4,173.02 435.8,180.45 436.1,187.74 436.5,194.63 436.9,200.84 437.3,206.13 437.7,210.31 438.1,213.22 438.5,214.73 438.9,214.80 439.3,213.41 439.7,210.64 440.1,206.57 440.5,201.37 440.9,195.23 441.3,188.40 441.7,181.13 442.1,173.71 442.5,166.41 442.9,159.53 443.3,153.32 443.7,148.02 444.1,143.84 444.5,140.94 444.9,139.42 445.3,139.36 445.7,140.74 446.1,143.52 446.5,147.59 446.9,152.79 447.3,158.92 447.7,165.76 448.1,173.02 448.5,180.45 448.9,187.74 449.3,194.63 449.7,200.84 450.1,206.13 450.5,210.31 450.9,213.22 451.3,214.73 451.7,214.80 452.1,213.41 452.5,210.64 452.9,206.57 453.3,201.37 453.7,195.23 454.1,188.40 454.5,181.13 454.9,173.71 455.3,166.41 455.7,159.53 456.1,153.32 456.5,148.02 456.9,143.84 457.3,140.94 457.7,139.42 458.1,139.36 458.5,140.74 458.9,143.52 459.3,147.59 459.7,152.79 460.1,158.92 460.5,165.76 460.9,173.02 461.3,180.45 461.7,187.74 462.1,194.63 462.5,200.84 462.9,206.13 463.3,210.31 463.7,213.22 464.1,214.73 464.5,214.80 464.9,213.41 465.3,210.64 465.7,206.57 466.1,201.37 466.5,195.23 466.9,188.40 467.3,181.13 467.7,173.71 468.1,166.41 468.5,159.53 468.9,153.32 469.3,148.02 469.7,143.84 470.1,140.94 470.5,139.42 470.9,139.36 471.3,140.74 471.7,143.52 472.1,147.59 472.5,152.79 472.9,158.92 473.3,165.76 473.7,173.02 474.1,180.45 474.5,187.74 474.9,194.63 475.3,200.84 475.7,206.13 476.1,210.31 476.5,213.22 476.9,214.73 477.3,214.80 477.7,213.41 478.1,210.64 478.4,206.57 478.8,201.37 479.2,195.23 479.6,188.40 480.0,181.13 480.4,173.71 480.8,166.41 481.2,159.53 481.6,153.32 482.0,148.02 482.4,143.84 482.8,140.94 483.2,139.42 483.6,139.36 484.0,140.74 484.4,143.52 484.8,147.59 485.2,152.79 485.6,158.92 486.0,165.76 486.4,173.02 486.8,180.45 487.2,187.74 487.6,194.63 488.0,200.84 488.4,206.13 488.8,210.31 489.2,213.22 489.6,214.73 490.0,214.80 490.4,213.41 490.8,210.64 491.2,206.57 491.6,201.37 492.0,195.23 492.4,188.40 492.8,181.13 493.2,173.71 493.6,166.41 494.0,159.53 494.4,153.32 494.8,148.02 495.2,143.84 495.6,140.94 496.0,139.42 496.4,139.36 496.8,140.74 497.2,143.52 497.6,147.59 498.0,152.79 498.4,158.92 498.8,165.76 499.2,173.02 499.6,180.45 500.0,187.74 500.4,194.63 500.8,200.84 501.2,206.13 501.6,210.31 502.0,213.22 502.4,214.73 502.8,214.80 503.2,213.41 503.6,210.64 504.0,206.57 504.4,201.37 504.8,195.23 505.2,188.40 505.6,181.13 506.0,173.71 506.4,166.41 506.8,159.53 507.2,153.32 507.6,148.02 508.0,143.84 508.4,140.94 508.8,139.42 509.2,139.36 509.6,140.74 510.0,143.52 510.4,147.59 510.8,152.79 511.2,158.92 511.6,165.76 512.0,173.02 512.4,180.45 512.8,187.74 513.2,194.63 513.6,200.84 514.0,206.13 514.4,210.31 514.8,213.22 515.2,214.73 515.6,214.80 516.0,213.41 516.4,210.64 516.8,206.57 517.2,201.37 517.6,195.23 518.0,188.40 518.4,181.13 518.8,173.71 519.2,166.41 519.6,159.53 520.0,153.32 520.4,148.02 520.8,143.84 521.1,140.94 521.5,139.42 521.9,139.36 522.3,140.74 522.7,143.52 523.1,147.59 523.5,152.79 523.9,158.92 524.3,165.76 524.7,173.02 525.1,180.45 525.5,187.74 525.9,194.63 526.3,200.84 526.7,206.13 527.1,210.31 527.5,213.22 527.9,214.73 528.3,214.80 528.7,213.41 529.1,210.64 529.5,206.57 529.9,201.37 530.3,195.23 530.7,188.40 531.1,181.13 531.5,173.71 531.9,166.41 532.3,159.53 532.7,153.32 533.1,148.02 533.5,143.84 533.9,140.94 534.3,139.42 534.7,139.36 535.1,140.74 535.5,143.52 535.9,147.59 536.3,152.79 536.7,158.92 537.1,165.76 537.5,173.02 537.9,180.45 538.3,187.74 538.7,194.63 539.1,200.84 539.5,206.13 539.9,210.31 540.3,213.22 540.7,214.73 541.1,214.80 541.5,213.41 541.9,210.64 542.3,206.57" fill="none" stroke="#D95319" stroke-width="1.6" stroke-linejoin="round" transform="scale(1,1.3)"/>
<polyline points="31.5,180.06 31.9,183.73 32.3,187.15 32.7,190.18 33.1,192.70 33.5,194.63 33.9,195.88 34.3,196.41 34.7,196.20 35.1,195.25 35.5,193.60 35.9,191.32 36.3,188.49 36.7,185.22 37.1,181.64 37.5,177.88 37.9,174.10 38.3,170.42 38.7,167.01 39.1,163.98 39.5,161.45 39.9,159.52 40.3,158.27 40.7,157.74 41.1,157.96 41.5,158.91 41.9,160.55 42.3,162.83 42.7,165.66 43.1,168.93 43.5,172.51 43.9,176.27 44.3,180.06 44.7,183.73 45.1,187.15 45.5,190.18 45.9,192.70 46.3,194.63 46.7,195.88 47.1,196.41 47.5,196.20 47.9,195.25 48.3,193.60 48.7,191.32 49.1,188.49 49.5,185.22 49.9,181.64 50.3,177.88 50.7,174.10 51.1,170.42 51.5,167.01 51.9,163.98 52.3,161.45 52.7,159.52 53.0,158.27 53.4,157.74 53.8,157.96 54.2,158.91 54.6,160.55 55.0,162.83 55.4,165.66 55.8,168.93 56.2,172.51 56.6,176.27 57.0,180.06 57.4,183.73 57.8,187.15 58.2,190.18 58.6,192.70 59.0,194.63 59.4,195.88 59.8,196.41 60.2,196.20 60.6,195.25 61.0,193.60 61.4,191.32 61.8,188.49 62.2,185.22 62.6,181.64 63.0,177.88 63.4,174.10 63.8,170.42 64.2,167.01 64.6,163.98 65.0,161.45 65.4,159.52 65.8,158.27 66.2,157.74 66.6,157.96 67.0,158.91 67.4,160.55 67.8,162.83 68.2,165.66 68.6,168.93 69.0,172.51 69.4,176.27 69.8,180.06 70.2,183.73 70.6,187.15 71.0,190.18 71.4,192.70 71.8,194.63 72.2,195.88 72.6,196.41 73.0,196.20 73.4,195.25 73.8,193.60 74.2,191.32 74.6,188.49 75.0,185.22 75.4,181.64 75.8,177.88 76.2,174.10 76.6,170.42 77.0,167.01 77.4,163.98 77.8,161.45 78.2,159.52 78.6,158.27 79.0,157.74 79.4,157.96 79.8,158.91 80.2,160.55 80.6,162.83 81.0,165.66 81.4,168.93 81.8,172.51 82.2,176.27 82.6,180.06 83.0,183.73 83.4,187.15 83.8,190.18 84.2,192.70 84.6,194.63 85.0,195.88 85.4,196.41 85.8,196.20 86.2,195.25 86.6,193.60 87.0,191.32 87.4,188.49 87.8,185.22 88.2,181.64 88.6,177.88 89.0,174.10 89.4,170.42 89.8,167.01 90.2,163.98 90.6,161.45 91.0,159.52 91.4,158.27 91.8,157.74 92.2,157.96 92.6,158.91 93.0,160.55 93.4,162.83 93.8,165.66 94.2,168.93 94.6,172.51 95.0,176.27 95.3,180.06 95.7,183.73 96.1,187.15 96.5,190.18 96.9,192.70 97.3,194.63 97.7,195.88 98.1,196.41 98.5,196.20 98.9,195.25 99.3,193.60 99.7,191.32 100.1,188.49 100.5,185.22 100.9,181.64 101.3,177.88 101.7,174.10 102.1,170.42 102.5,167.01 102.9,163.98 103.3,161.45 103.7,159.52 104.1,158.27 104.5,157.74 104.9,157.96 105.3,158.91 105.7,160.55 106.1,162.83 106.5,165.66 106.9,168.93 107.3,172.51 107.7,176.27 108.1,180.06 108.5,183.73 108.9,187.15 109.3,190.18 109.7,192.70 110.1,194.63 110.5,195.88 110.9,196.41 111.3,196.20 111.7,195.25 112.1,193.60 112.5,191.32 112.9,188.49 113.3,185.22 113.7,181.64 114.1,177.88 114.5,174.10 114.9,170.42 115.3,167.01 115.7,163.98 116.1,161.45 116.5,159.52 116.9,158.27 117.3,157.74 117.7,157.96 118.1,158.91 118.5,160.55 118.9,162.83 119.3,165.66 119.7,168.93 120.1,172.51 120.5,176.27 120.9,180.06 121.3,183.73 121.7,187.15 122.1,190.18 122.5,192.70 122.9,194.63 123.3,195.88 123.7,196.41 124.1,196.20 124.5,195.25 124.9,193.60 125.3,191.32 125.7,188.49 126.1,185.22 126.5,181.64 126.9,177.88 127.3,174.10 127.7,170.42 128.1,167.01 128.5,163.98 128.9,161.45 129.3,159.52 129.7,158.27 130.1,157.74 130.5,157.96 130.9,158.91 131.3,160.55 131.7,162.83 132.1,165.66 132.5,168.93 132.9,172.51 133.3,176.27 133.7,180.06 134.1,183.73 134.5,187.15 134.9,190.18 135.3,192.70 135.7,194.63 136.1,195.88 136.5,196.41 136.9,196.20 137.3,195.25 137.7,193.60 138.0,191.32 138.4,188.49 138.8,185.22 139.2,181.64 139.6,177.88 140.0,174.10 140.4,170.42 140.8,167.01 141.2,163.98 141.6,161.45 142.0,159.52 142.4,158.27 142.8,157.74 143.2,157.96 143.6,158.91 144.0,160.55 144.4,162.83 144.8,165.66 145.2,168.93 145.6,172.51 146.0,176.27 146.4,180.06 146.8,183.73 147.2,187.15 147.6,190.18 148.0,192.70 148.4,194.63 148.8,195.88 149.2,196.41 149.6,196.20 150.0,195.25 150.4,193.60 150.8,191.32 151.2,188.49 151.6,185.22 152.0,181.64 152.4,177.88 152.8,174.10 153.2,170.42 153.6,167.01 154.0,163.98 154.4,161.45 154.8,159.52 155.2,158.27 155.6,157.74 156.0,157.96 156.4,158.91 156.8,160.55 157.2,162.83 157.6,165.66 158.0,168.93 158.4,172.51 158.8,176.27 159.2,180.06 159.6,183.73 160.0,187.15 160.4,190.18 160.8,192.70 161.2,194.63 161.6,195.88 162.0,196.41 162.4,196.20 162.8,195.25 163.2,193.60 163.6,191.32 164.0,188.49 164.4,185.22 164.8,181.64 165.2,177.88 165.6,174.10 166.0,170.42 166.4,167.01 166.8,163.98 167.2,161.45 167.6,159.52 168.0,158.27 168.4,157.74 168.8,157.96 169.2,158.91 169.6,160.55 170.0,162.83 170.4,165.66 170.8,168.93 171.2,172.51 171.6,176.27 172.0,180.06 172.4,183.73 172.8,187.15 173.2,190.18 173.6,192.70 174.0,194.63 174.4,195.88 174.8,196.41 175.2,196.20 175.6,195.25 176.0,193.60 176.4,191.32 176.8,188.49 177.2,185.22 177.6,181.64 178.0,177.88 178.4,174.10 178.8,170.42 179.2,167.01 179.6,163.98 180.0,161.45 180.4,159.52 180.7,158.27 181.1,157.74 181.5,157.96 181.9,158.91 182.3,160.55 182.7,162.83 183.1,165.66 183.5,168.93 183.9,172.51 184.3,176.27 184.7,180.06 185.1,183.73 185.5,187.15 185.9,190.18 186.3,192.70 186.7,194.63 187.1,195.88 187.5,196.41 187.9,196.20 188.3,195.25 188.7,193.60 189.1,191.32 189.5,188.49 189.9,185.22 190.3,181.64 190.7,177.88 191.1,174.10 191.5,170.42 191.9,167.01 192.3,163.98 192.7,161.45 193.1,159.52 193.5,158.27 193.9,157.74 194.3,157.96 194.7,158.91 195.1,160.55 195.5,162.83 195.9,165.66 196.3,168.93 196.7,172.51 197.1,176.27 197.5,180.06 197.9,183.73 198.3,187.15 198.7,190.18 199.1,192.70 199.5,194.63 199.9,195.88 200.3,196.41 200.7,196.20 201.1,195.25 201.5,193.60 201.9,191.32 202.3,188.49 202.7,185.22 203.1,181.64 203.5,177.88 203.9,174.10 204.3,170.42 204.7,167.01 205.1,163.98 205.5,161.45 205.9,159.52 206.3,158.27 206.7,157.74 207.1,157.96 207.5,158.91 207.9,160.55 208.3,162.83 208.7,165.66 209.1,168.93 209.5,172.51 209.9,176.27 210.3,180.06 210.7,183.73 211.1,187.15 211.5,190.18 211.9,192.70 212.3,194.63 212.7,195.88 213.1,196.41 213.5,196.20 213.9,195.25 214.3,193.60 214.7,191.32 215.1,188.49 215.5,185.22 215.9,181.64 216.3,177.88 216.7,174.10 217.1,170.42 217.5,167.01 217.9,163.98 218.3,161.45 218.7,159.52 219.1,158.27 219.5,157.74 219.9,157.96 220.3,158.91 220.7,160.55 221.1,162.83 221.5,165.66 221.9,168.93 222.3,172.51 222.7,176.27 223.0,180.06 223.4,183.73 223.8,187.15 224.2,190.18 224.6,192.70 225.0,194.63 225.4,195.88 225.8,196.41 226.2,196.20 226.6,195.25 227.0,193.60 227.4,191.32 227.8,188.49 228.2,185.22 228.6,181.64 229.0,177.88 229.4,174.10 229.8,170.42 230.2,167.01 230.6,163.98 231.0,161.45 231.4,159.52 231.8,158.27 232.2,157.74 232.6,157.96 233.0,158.91 233.4,160.55 233.8,162.83 234.2,165.66 234.6,168.93 235.0,172.51 235.4,176.27 235.8,180.06 236.2,183.73 236.6,187.15 237.0,190.18 237.4,192.70 237.8,194.63 238.2,195.88 238.6,196.41 239.0,196.20 239.4,195.25 239.8,193.60 240.2,191.32 240.6,188.49 241.0,185.22 241.4,181.64 241.8,177.88 242.2,174.10 242.6,170.42 243.0,167.01 243.4,163.98 243.8,161.45 244.2,159.52 244.6,158.27 245.0,157.74 245.4,157.96 245.8,158.91 246.2,160.55 246.6,162.83 247.0,165.66 247.4,168.93 247.8,172.51 248.2,176.27 248.6,180.06 249.0,183.73 249.4,187.15 249.8,190.18 250.2,192.70 250.6,194.63 251.0,195.88 251.4,196.41 251.8,196.20 252.2,195.25 252.6,193.60 253.0,191.32 253.4,188.49 253.8,185.22 254.2,181.64 254.6,177.88 255.0,174.10 255.4,170.42 255.8,167.01 256.2,163.98 256.6,161.45 257.0,159.52 257.4,158.27 257.8,157.74 258.2,157.96 258.6,158.91 259.0,160.55 259.4,162.83 259.8,165.66 260.2,168.93 260.6,172.51 261.0,176.27 261.4,180.06 261.8,183.73 262.2,187.15 262.6,190.18 263.0,192.70 263.4,194.63 263.8,195.88 264.2,196.41 264.6,196.20 265.0,195.25 265.4,193.60 265.7,191.32 266.1,188.49 266.5,185.22 266.9,181.64 267.3,177.88 267.7,174.10 268.1,170.42 268.5,167.01 268.9,163.98 269.3,161.45 269.7,159.52 270.1,158.27 270.5,157.74 270.9,157.96 271.3,158.91 271.7,160.55 272.1,162.83 272.5,165.66 272.9,168.93 273.3,172.51 273.7,176.27 274.1,180.06 274.5,183.73 274.9,187.15 275.3,190.18 275.7,192.70 276.1,194.63 276.5,195.88 276.9,196.41 277.3,196.20 277.7,195.25 278.1,193.60 278.5,191.32 278.9,188.49 279.3,185.22 279.7,181.64 280.1,177.88 280.5,174.10 280.9,170.42 281.3,167.01 281.7,163.98 282.1,161.45 282.5,159.52 282.9,158.27 283.3,157.74 283.7,157.96 284.1,158.91 284.5,160.55 284.9,162.83 285.3,165.66 285.7,168.93 286.1,172.51 286.5,176.27 286.9,180.06 286.9,183.17 287.3,190.60 287.7,197.43 288.1,203.44 288.5,208.40 288.9,212.14 289.3,214.53 289.7,215.48 290.1,214.98 290.5,213.03 290.9,209.72 291.3,205.18 291.7,199.57 292.1,193.11 292.5,186.05 292.9,178.67 293.3,171.22 293.7,164.02 294.1,157.32 294.5,151.38 294.9,146.43 295.3,142.67 295.7,140.22 296.1,139.19 296.5,139.62 296.9,141.48 297.3,144.71 297.7,149.18 298.1,154.73 298.5,161.13 298.9,168.14 299.3,175.49 299.7,182.91 300.1,190.10 300.5,196.79 300.9,202.72 301.3,207.66 301.7,211.43 302.1,213.88 302.5,214.92 302.9,214.50 303.3,212.64 303.7,209.42 304.1,204.95 304.5,199.41 304.9,193.02 305.3,186.01 305.7,178.66 306.1,171.25 306.5,164.06 306.9,157.37 307.3,151.44 307.7,146.49 308.1,142.72 308.4,140.27 308.8,139.24 309.2,139.66 309.6,141.51 310.0,144.74 310.4,149.20 310.8,154.74 311.2,161.14 311.6,168.14 312.0,175.50 312.4,182.91 312.8,190.10 313.2,196.78 313.6,202.71 314.0,207.66 314.4,211.43 314.8,213.88 315.2,214.91 315.6,214.50 316.0,212.64 316.4,209.42 316.8,204.95 317.2,199.41 317.6,193.02 318.0,186.01 318.4,178.66 318.8,171.25 319.2,164.06 319.6,157.37 320.0,151.44 320.4,146.49 320.8,142.72 321.2,140.27 321.6,139.24 322.0,139.66 322.4,141.51 322.8,144.74 323.2,149.20 323.6,154.74 324.0,161.14 324.4,168.14 324.8,175.50 325.2,182.91 325.6,190.10 326.0,196.78 326.4,202.71 326.8,207.66 327.2,211.43 327.6,213.88 328.0,214.91 328.4,214.50 328.8,212.64 329.2,209.42 329.6,204.95 330.0,199.41 330.4,193.02 330.8,186.01 331.2,178.66 331.6,171.25 332.0,164.06 332.4,157.37 332.8,151.44 333.2,146.49 333.6,142.72 334.0,140.27 334.4,139.24 334.8,139.66 335.2,141.51 335.6,144.74 336.0,149.20 336.4,154.74 336.8,161.14 337.2,168.14 337.6,175.50 338.0,182.91 338.4,190.10 338.8,196.78 339.2,202.71 339.6,207.66 340.0,211.43 340.4,213.88 340.8,214.91 341.2,214.50 341.6,212.64 342.0,209.42 342.4,204.95 342.8,199.41 343.2,193.02 343.6,186.01 344.0,178.66 344.4,171.25 344.8,164.06 345.2,157.37 345.6,151.44 346.0,146.49 346.4,142.72 346.8,140.27 347.2,139.24 347.6,139.66 348.0,141.51 348.4,144.74 348.8,149.20 349.2,154.74 349.6,161.14 350.0,168.14 350.4,175.50 350.8,182.91 351.1,190.10 351.5,196.78 351.9,202.71 352.3,207.66 352.7,211.43 353.1,213.88 353.5,214.91 353.9,214.50 354.3,212.64 354.7,209.42 355.1,204.95 355.5,199.41 355.9,193.02 356.3,186.01 356.7,178.66 357.1,171.25 357.5,164.06 357.9,157.37 358.3,151.44 358.7,146.49 359.1,142.72 359.5,140.27 359.9,139.24 360.3,139.66 360.7,141.51 361.1,144.74 361.5,149.20 361.9,154.74 362.3,161.14 362.7,168.14 363.1,175.50 363.5,182.91 363.9,190.10 364.3,196.78 364.7,202.71 365.1,207.66 365.5,211.43 365.9,213.88 366.3,214.91 366.7,214.50 367.1,212.64 367.5,209.42 367.9,204.95 368.3,199.41 368.7,193.02 369.1,186.01 369.5,178.66 369.9,171.25 370.3,164.06 370.7,157.37 371.1,151.44 371.5,146.49 371.9,142.72 372.3,140.27 372.7,139.24 373.1,139.66 373.5,141.51 373.9,144.74 374.3,149.20 374.7,154.74 375.1,161.14 375.5,168.14 375.9,175.50 376.3,182.91 376.7,190.10 377.1,196.78 377.5,202.71 377.9,207.66 378.3,211.43 378.7,213.88 379.1,214.91 379.5,214.50 379.9,212.64 380.3,209.42 380.7,204.95 381.1,199.41 381.5,193.02 381.9,186.01 382.3,178.66 382.7,171.25 383.1,164.06 383.5,157.37 383.9,151.44 384.3,146.49 384.7,142.72 385.1,140.27 385.5,139.24 385.9,139.66 386.3,141.51 386.7,144.74 387.1,149.20 387.5,154.74 387.9,161.14 388.3,168.14 388.7,175.50 389.1,182.91 389.5,190.10 389.9,196.78 390.3,202.71 390.7,207.66 391.1,211.43 391.5,213.88 391.9,214.91 392.3,214.50 392.7,212.64 393.1,209.42 393.4,204.95 393.8,199.41 394.2,193.02 394.6,186.01 395.0,178.66 395.4,171.25 395.8,164.06 396.2,157.37 396.6,151.44 397.0,146.49 397.4,142.72 397.8,140.27 398.2,139.24 398.6,139.66 399.0,141.51 399.4,144.74 399.8,149.20 400.2,154.74 400.6,161.14 401.0,168.14 401.4,175.50 401.8,182.91 402.2,190.10 402.6,196.78 403.0,202.71 403.4,207.66 403.8,211.43 404.2,213.88 404.6,214.91 405.0,214.50 405.4,212.64 405.8,209.42 406.2,204.95 406.6,199.41 407.0,193.02 407.4,186.01 407.8,178.66 408.2,171.25 408.6,164.06 409.0,157.37 409.4,151.44 409.8,146.49 410.2,142.72 410.6,140.27 411.0,139.24 411.4,139.66 411.8,141.51 412.2,144.74 412.6,149.20 413.0,154.74 413.4,161.14 413.8,168.14 414.2,175.50 414.6,182.91 415.0,190.10 415.4,196.78 415.8,202.71 416.2,207.66 416.6,211.43 417.0,213.88 417.4,214.91 417.8,214.50 418.2,212.64 418.6,209.42 419.0,204.95 419.4,199.41 419.8,193.02 420.2,186.01 420.6,178.66 421.0,171.25 421.4,164.06 421.8,157.37 422.2,151.44 422.6,146.49 423.0,142.72 423.4,140.27 423.8,139.24 424.2,139.66 424.6,141.51 425.0,144.74 425.4,149.20 425.8,154.74 426.2,161.14 426.6,168.14 427.0,175.50 427.4,182.91 427.8,190.10 428.2,196.78 428.6,202.71 429.0,207.66 429.4,211.43 429.8,213.88 430.2,214.91 430.6,214.50 431.0,212.64 431.4,209.42 431.8,204.95 432.2,199.41 432.6,193.02 433.0,186.01 433.4,178.66 433.8,171.25 434.2,164.06 434.6,157.37 435.0,151.44 435.4,146.49 435.8,142.72 436.1,140.27 436.5,139.24 436.9,139.66 437.3,141.51 437.7,144.74 438.1,149.20 438.5,154.74 438.9,161.14 439.3,168.14 439.7,175.50 440.1,182.91 440.5,190.10 440.9,196.78 441.3,202.71 441.7,207.66 442.1,211.43 442.5,213.88 442.9,214.91 443.3,214.50 443.7,212.64 444.1,209.42 444.5,204.95 444.9,199.41 445.3,193.02 445.7,186.01 446.1,178.66 446.5,171.25 446.9,164.06 447.3,157.37 447.7,151.44 448.1,146.49 448.5,142.72 448.9,140.27 449.3,139.24 449.7,139.66 450.1,141.51 450.5,144.74 450.9,149.20 451.3,154.74 451.7,161.14 452.1,168.14 452.5,175.50 452.9,182.91 453.3,190.10 453.7,196.78 454.1,202.71 454.5,207.66 454.9,211.43 455.3,213.88 455.7,214.91 456.1,214.50 456.5,212.64 456.9,209.42 457.3,204.95 457.7,199.41 458.1,193.02 458.5,186.01 458.9,178.66 459.3,171.25 459.7,164.06 460.1,157.37 460.5,151.44 460.9,146.49 461.3,142.72 461.7,140.27 462.1,139.24 462.5,139.66 462.9,141.51 463.3,144.74 463.7,149.20 464.1,154.74 464.5,161.14 464.9,168.14 465.3,175.50 465.7,182.91 466.1,190.10 466.5,196.78 466.9,202.71 467.3,207.66 467.7,211.43 468.1,213.88 468.5,214.91 468.9,214.50 469.3,212.64 469.7,209.42 470.1,204.95 470.5,199.41 470.9,193.02 471.3,186.01 471.7,178.66 472.1,171.25 472.5,164.06 472.9,157.37 473.3,151.44 473.7,146.49 474.1,142.72 474.5,140.27 474.9,139.24 475.3,139.66 475.7,141.51 476.1,144.74 476.5,149.20 476.9,154.74 477.3,161.14 477.7,168.14 478.1,175.50 478.4,182.91 478.8,190.10 479.2,196.78 479.6,202.71 480.0,207.66 480.4,211.43 480.8,213.88 481.2,214.91 481.6,214.50 482.0,212.64 482.4,209.42 482.8,204.95 483.2,199.41 483.6,193.02 484.0,186.01 484.4,178.66 484.8,171.25 485.2,164.06 485.6,157.37 486.0,151.44 486.4,146.49 486.8,142.72 487.2,140.27 487.6,139.24 488.0,139.66 488.4,141.51 488.8,144.74 489.2,149.20 489.6,154.74 490.0,161.14 490.4,168.14 490.8,175.50 491.2,182.91 491.6,190.10 492.0,196.78 492.4,202.71 492.8,207.66 493.2,211.43 493.6,213.88 494.0,214.91 494.4,214.50 494.8,212.64 495.2,209.42 495.6,204.95 496.0,199.41 496.4,193.02 496.8,186.01 497.2,178.66 497.6,171.25 498.0,164.06 498.4,157.37 498.8,151.44 499.2,146.49 499.6,142.72 500.0,140.27 500.4,139.24 500.8,139.66 501.2,141.51 501.6,144.74 502.0,149.20 502.4,154.74 502.8,161.14 503.2,168.14 503.6,175.50 504.0,182.91 504.4,190.10 504.8,196.78 505.2,202.71 505.6,207.66 506.0,211.43 506.4,213.88 506.8,214.91 507.2,214.50 507.6,212.64 508.0,209.42 508.4,204.95 508.8,199.41 509.2,193.02 509.6,186.01 510.0,178.66 510.4,171.25 510.8,164.06 511.2,157.37 511.6,151.44 512.0,146.49 512.4,142.72 512.8,140.27 513.2,139.24 513.6,139.66 514.0,141.51 514.4,144.74 514.8,149.20 515.2,154.74 515.6,161.14 516.0,168.14 516.4,175.50 516.8,182.91 517.2,190.10 517.6,196.78 518.0,202.71 518.4,207.66 518.8,211.43 519.2,213.88 519.6,214.91 520.0,214.50 520.4,212.64 520.8,209.42 521.1,204.95 521.5,199.41 521.9,193.02 522.3,186.01 522.7,178.66 523.1,171.25 523.5,164.06 523.9,157.37 524.3,151.44 524.7,146.49 525.1,142.72 525.5,140.27 525.9,139.24 526.3,139.66 526.7,141.51 527.1,144.74 527.5,149.20 527.9,154.74 528.3,161.14 528.7,168.14 529.1,175.50 529.5,182.91 529.9,190.10 530.3,196.78 530.7,202.71 531.1,207.66 531.5,211.43 531.9,213.88 532.3,214.91 532.7,214.50 533.1,212.64 533.5,209.42 533.9,204.95 534.3,199.41 534.7,193.02 535.1,186.01 535.5,178.66 535.9,171.25 536.3,164.06 536.7,157.37 537.1,151.44 537.5,146.49 537.9,142.72 538.3,140.27 538.7,139.24 539.1,139.66 539.5,141.51 539.9,144.74 540.3,149.20 540.7,154.74 541.1,161.14 541.5,168.14 541.9,175.50 542.3,182.91" fill="none" stroke="#EDB120" stroke-width="1.6" stroke-linejoin="round" transform="scale(1,1.3)"/>
<text transform="matrix(0.960,0.002,0,1.100,31.50,299.50)" class="tk" text-anchor="middle">0.6</text>
<text transform="matrix(0.960,0.002,0,1.100,95.35,299.50)" class="tk" text-anchor="middle">0.7</text>
<text transform="matrix(0.960,0.002,0,1.100,159.20,299.50)" class="tk" text-anchor="middle">0.8</text>
<text transform="matrix(0.960,0.002,0,1.100,223.05,299.50)" class="tk" text-anchor="middle">0.9</text>
<text transform="matrix(0.960,0.002,0,1.100,286.90,299.50)" class="tk" text-anchor="middle">1</text>
<text transform="matrix(0.960,0.002,0,1.100,350.75,299.50)" class="tk" text-anchor="middle">1.1</text>
<text transform="matrix(0.960,0.002,0,1.100,414.60,299.50)" class="tk" text-anchor="middle">1.2</text>
<text transform="matrix(0.960,0.002,0,1.100,478.45,299.50)" class="tk" text-anchor="middle">1.3</text>
<text transform="matrix(0.960,0.002,0,1.100,542.30,299.50)" class="tk" text-anchor="middle">1.4</text>
<text transform="matrix(0.960,0.002,0,1.100,27.70,193.67)" class="tk" text-anchor="end">10</text>
<text transform="matrix(0.960,0.002,0,1.100,27.70,213.64)" class="tk" text-anchor="end">5</text>
<text transform="matrix(0.960,0.002,0,1.100,27.70,233.60)" class="tk" text-anchor="end">0</text>
<text transform="matrix(0.960,0.002,0,1.100,27.70,253.56)" class="tk" text-anchor="end">-5</text>
<text transform="matrix(0.960,0.002,0,1.100,27.70,273.53)" class="tk" text-anchor="end">-10</text>
<text transform="matrix(1.000,0.002,0,1.050,286.90,314.00)" class="lb" text-anchor="middle" textLength="68.0" lengthAdjust="spacingAndGlyphs">Time (seconds)</text>
<text transform="translate(9.90,230.20) rotate(-90.1)" class="lb" text-anchor="middle" textLength="52.6" lengthAdjust="spacingAndGlyphs">Current [A]</text>
<rect x="510.40" y="174.50" width="31.90" height="36.50" class="lgb" stroke="#444"/>
<line x1="512.40" y1="181.20" x2="531.90" y2="181.20" stroke="#0072BD" stroke-width="1.8"/>
<text transform="matrix(0.950,0.002,0,1.150,533.10,184.50)" class="lg" text-anchor="start">Ia</text>
<line x1="512.40" y1="192.80" x2="531.90" y2="192.80" stroke="#D95319" stroke-width="1.8"/>
<text transform="matrix(0.950,0.002,0,1.150,533.10,196.10)" class="lg" text-anchor="start">Ib</text>
<line x1="512.40" y1="204.60" x2="531.90" y2="204.60" stroke="#EDB120" stroke-width="1.6"/>
<text transform="matrix(0.950,0.002,0,1.150,533.10,207.90)" class="lg" text-anchor="start">Ic</text>
<text transform="matrix(0.900,0.002,0,1.000,276.20,170.00)" class="cap" text-anchor="middle">(<tspan class="bd">a</tspan>)</text>
<text transform="matrix(0.900,0.002,0,1.000,276.20,333.70)" class="cap" text-anchor="middle">(<tspan class="bd">b</tspan>)</text>
</svg>
</body></html>
